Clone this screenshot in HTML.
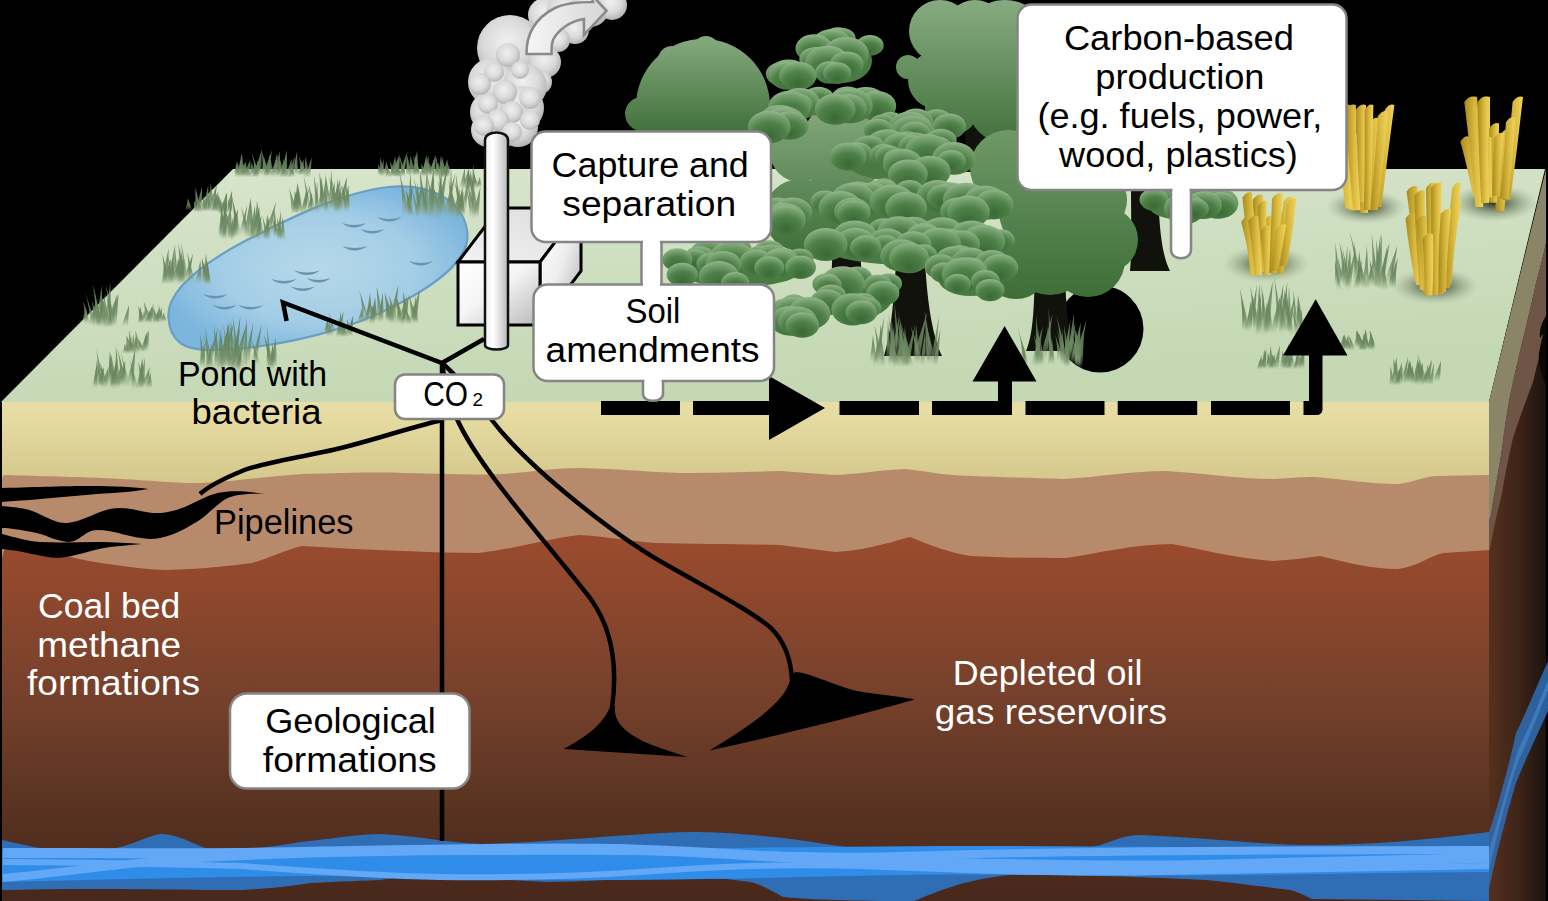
<!DOCTYPE html>
<html><head><meta charset="utf-8"><title>Carbon capture diagram</title>
<style>
html,body{margin:0;padding:0;background:#000;overflow:hidden}
svg{display:block}
text{font-family:"Liberation Sans",sans-serif}
</style></head>
<body>
<svg width="1548" height="901" viewBox="0 0 1548 901">
<defs>
<linearGradient id="gTop" x1="0" y1="0" x2="0.3" y2="1">
<stop offset="0" stop-color="#d8e5cc"/><stop offset="1" stop-color="#c4d8b4"/></linearGradient>
<linearGradient id="gTan" x1="0" y1="402" x2="0" y2="480" gradientUnits="userSpaceOnUse">
<stop offset="0" stop-color="#e9dfa6"/><stop offset="1" stop-color="#d5c88c"/></linearGradient>
<linearGradient id="gDark" x1="0" y1="540" x2="0" y2="901" gradientUnits="userSpaceOnUse">
<stop offset="0" stop-color="#9a4b2e"/><stop offset="0.45" stop-color="#74402b"/><stop offset="0.8" stop-color="#54301f"/><stop offset="1" stop-color="#48281c"/></linearGradient>
<linearGradient id="gSide" x1="1489" y1="0" x2="1548" y2="0" gradientUnits="userSpaceOnUse">
<stop offset="0" stop-color="#55301f"/><stop offset="0.5" stop-color="#3e2418"/><stop offset="1" stop-color="#1a120e"/></linearGradient>
<linearGradient id="gBlade" x1="0" y1="0" x2="0" y2="1">
<stop offset="0" stop-color="#5f7d55" stop-opacity="0.95"/><stop offset="0.6" stop-color="#6f8b65" stop-opacity="0.8"/><stop offset="1" stop-color="#88a37c" stop-opacity="0"/></linearGradient>
<linearGradient id="gWheat" x1="0" y1="0" x2="1" y2="0">
<stop offset="0" stop-color="#a88a1c"/><stop offset="0.6" stop-color="#dcbc42"/><stop offset="1" stop-color="#f0d55a"/></linearGradient>
<linearGradient id="gWheatV" x1="0" y1="0" x2="0" y2="1">
<stop offset="0" stop-color="#000" stop-opacity="0"/><stop offset="0.7" stop-color="#000" stop-opacity="0"/><stop offset="1" stop-color="#3a2a00" stop-opacity="0.25"/></linearGradient>
<radialGradient id="gWShadow" cx="0.5" cy="0.5" r="0.5">
<stop offset="0" stop-color="#18200f" stop-opacity="0.92"/><stop offset="0.5" stop-color="#4a5a40" stop-opacity="0.45"/><stop offset="1" stop-color="#8aa078" stop-opacity="0"/></radialGradient>
<radialGradient id="gSmoke" cx="0.45" cy="0.4" r="0.6">
<stop offset="0" stop-color="#f0f0f0"/><stop offset="0.6" stop-color="#dadada"/><stop offset="1" stop-color="#b4b4b4"/></radialGradient>
<linearGradient id="gArrow" x1="0" y1="0" x2="1" y2="0"><stop offset="0" stop-color="#f6f6f6"/><stop offset="1" stop-color="#d6d6d6"/></linearGradient>
<radialGradient id="gBub" cx="0.5" cy="0.72" r="0.7" fx="0.5" fy="0.8">
<stop offset="0" stop-color="#3a6934"/><stop offset="0.55" stop-color="#4f8048"/><stop offset="0.85" stop-color="#74a06d"/><stop offset="1" stop-color="#8fb388"/></radialGradient>
<linearGradient id="gTC" x1="0" y1="0" x2="0" y2="150" gradientUnits="userSpaceOnUse"><stop offset="0" stop-color="#87ab80"/><stop offset="1" stop-color="#3f6f39"/></linearGradient>
<linearGradient id="gTA" x1="0" y1="35" x2="0" y2="135" gradientUnits="userSpaceOnUse"><stop offset="0" stop-color="#87ab80"/><stop offset="1" stop-color="#3f6f39"/></linearGradient>
<linearGradient id="gTD" x1="0" y1="100" x2="0" y2="255" gradientUnits="userSpaceOnUse"><stop offset="0" stop-color="#87ab80"/><stop offset="1" stop-color="#3f6f39"/></linearGradient>
<linearGradient id="gTE" x1="0" y1="128" x2="0" y2="300" gradientUnits="userSpaceOnUse"><stop offset="0" stop-color="#6f9968"/><stop offset="1" stop-color="#3d6e37"/></linearGradient>
</defs>
<rect width="1548" height="901" fill="#000"/>
<!-- top surface -->
<polygon points="1,402 233,169 1545,169 1489,402" fill="url(#gTop)"/>
<!-- front face -->
<rect x="2" y="402" width="1487" height="499" fill="url(#gTan)"/>
<path id="lightBrown" fill="#b88a6c" d="M2,478 L4,475 C40,476 80,477 101,478 C150,480 180,484 202,483 C240,481 270,476 302,474 C340,473 380,472 403,473 C450,474 480,475 504,474 C530,472 555,468 580,468 C620,469 650,472 680,473 C720,473 750,472 780,471 L835,475 C860,474 880,470 906,469 C930,472 950,476 971,476 C1000,477 1030,478 1064,479 C1100,477 1130,471 1167,471 C1200,473 1240,479 1273,479 C1290,478 1300,477 1315,477 C1350,480 1370,484 1398,484 C1415,482 1425,476 1438,476 L1489,475 L1489,901 L2,901 Z"/>
<path id="darkBrown" fill="url(#gDark)" d="M2,558 L5,548 C20,550 35,552 50,553 C70,556 85,561 101,563 C130,567 150,570 166,570 C200,569 230,566 252,563 C270,558 285,550 302,546 C340,548 370,550 403,551 C430,552 455,553 479,553 C520,548 550,538 580,535 C610,537 630,541 655,543 C700,544 740,544 780,545 L835,552 C860,551 885,544 910,537 C930,545 950,553 971,556 C1010,558 1040,558 1066,558 C1100,553 1135,544 1172,544 C1205,550 1240,559 1273,561 C1290,560 1305,558 1320,556 C1345,562 1370,569 1398,569 C1420,566 1430,555 1444,553 L1489,550 L1489,901 L2,901 Z"/>
<!-- side face -->
<polygon points="1489,402 1546,169 1546,901 1489,901" fill="url(#gSide)"/>
<path fill="#8b8568" d="M1489,402 L1546,169 L1546,243 C1542,262 1538,275 1535,288 C1528,320 1520,350 1513,382 C1508,405 1505,425 1502,449 C1498,475 1494,495 1491,515 L1489,520 Z"/>
<path fill="#6e5545" d="M1489,520 L1491,515 C1494,495 1498,475 1502,449 C1505,425 1508,405 1513,382 C1520,350 1528,320 1535,288 C1538,275 1542,262 1546,243 L1546,330 C1541,350 1537,365 1533,382 C1526,400 1519,420 1513,438 C1509,455 1505,475 1502,493 C1497,515 1493,530 1490,549 L1489,552 Z"/>
<!-- squiggle --><path fill="#0a0806" d="M1546,316 C1542,322 1539,330 1540,338 L1543,334 C1541,345 1538,352 1539,360 C1540,370 1543,378 1546,385 Z"/>
<path fill="#2f6db5" d="M2,840 C30,846 45,850 57,850 C80,851 95,850 111,849 C135,845 150,834 163,834 C185,836 198,848 212,849 C235,850 245,848 258,848 C280,846 295,842 310,841 C335,838 360,834 380,834 C420,836 450,843 481,844 C560,842 640,832 699,832 C740,833 760,836 774,837 C820,842 860,851 900,851 C960,850 1040,850 1087,848 C1105,846 1120,835 1139,835 C1200,837 1260,845 1312,845 C1380,845 1440,838 1489,832 L1489,901 L1312,899 C1300,893 1295,891 1290,890 C1240,884 1210,879 1182,879 C1120,876 1050,874 1010,875 C960,880 935,893 914,901 L900,901 C850,901 800,899 783,897 C770,890 760,884 750,882 C720,878 690,875 666,876 C620,879 580,882 548,882 C500,880 450,876 414,876 C400,877 390,879 380,880 C350,881 330,882 310,883 C280,888 250,890 233,890 C180,890 120,889 77,889 C40,889 20,890 2,890 Z"/>
<path fill="#2f8ce8" d="M2,850 C150,851 300,852 450,852 C600,850 800,846 1000,846 C1200,847 1350,849 1489,848 L1489,872 C1350,873 1200,877 1050,875 C900,873 800,878 700,879 C550,882 450,877 300,876 C200,877 100,880 2,882 Z"/>
<g fill="none" stroke="#62a8f6" stroke-linecap="butt">
<path stroke-width="10" d="M3,853 C100,853 200,854 300,852 C420,850 520,847 620,849 C720,852 800,860 900,862 C1000,864 1100,867 1200,865 C1300,863 1400,860 1489,858"/>
<path stroke-width="8" d="M3,878 C70,872 130,862 200,858 C300,853 400,851 480,851 C560,851 620,850 680,852 C760,855 830,858 900,856 C1000,853 1200,850 1489,850"/>
<path stroke-width="6" d="M3,862 C80,862 160,864 240,866 C320,872 380,876 440,877 C520,878 580,876 640,872 C720,866 780,864 860,866 C960,870 1060,874 1160,872 C1260,870 1380,868 1489,866"/>
</g>
<path fill="#2f6db5" opacity="0.85" d="M1489,832 C1500,800 1510,760 1516,733 C1525,715 1535,690 1548,661 L1548,711 C1535,740 1525,760 1516,783 C1505,820 1495,860 1489,889 Z"/>
<path fill="#4a8ad0" opacity="0.6" d="M1489,850 C1500,815 1510,775 1518,750 C1528,730 1538,705 1548,680 L1548,690 C1538,715 1528,740 1518,762 C1508,790 1498,830 1489,870 Z"/>
<!-- pond -->
<radialGradient id="gPond" cx="0.5" cy="0.5" r="0.55">
<stop offset="0" stop-color="#b6d9e8"/><stop offset="0.6" stop-color="#a3cde6"/><stop offset="1" stop-color="#7cb5de"/></radialGradient>
<path fill="url(#gPond)" stroke="#6b9ec4" stroke-width="2.2" d="M168.5,318 C166,292 200,265 245,241 C290,218 340,193 388,187 C430,183 462,200 467,230 C472,258 440,285 380,313 C330,336 260,350 209,350 C185,350 170,342 168.5,318 Z"/>
<g fill="#6893b3">
<path d="M342,223 Q354.0,232 366,223 Q354.0,227 342,223 Z"/>
<path d="M360,229 Q372.25,238 384.5,229 Q372.25,233 360,229 Z"/>
<path d="M377,217 Q389.3,226 401.6,217 Q389.3,221 377,217 Z"/>
<path d="M342,246 Q354.75,255 367.5,246 Q354.75,250 342,246 Z"/>
<path d="M409,261 Q421.0,270 433,261 Q421.0,265 409,261 Z"/>
<path d="M294,270.6 Q307.0,279.6 320,270.6 Q307.0,274.6 294,270.6 Z"/>
<path d="M306.5,278 Q318.75,287 331,278 Q318.75,282 306.5,278 Z"/>
<path d="M271,279 Q283.85,288 296.7,279 Q283.85,283 271,279 Z"/>
<path d="M290.6,286.5 Q302.8,295.5 315,286.5 Q302.8,290.5 290.6,286.5 Z"/>
<path d="M202.7,294 Q215.35,303 228,294 Q215.35,298 202.7,294 Z"/>
<path d="M212.5,305 Q224.75,314 237,305 Q224.75,309 212.5,305 Z"/>
<path d="M238,305 Q251.0,314 264,305 Q251.0,309 238,305 Z"/>
</g>
<g fill="url(#gBlade)"><path d="M262.4,173.8 Q263.6,161.6 260.9,149.3 Q265.9,162.8 269.2,173.8 Z"/><path d="M233.2,173.9 Q236.3,167.7 236.9,161.5 Q239.3,168.3 240.9,173.9 Z"/><path d="M292.0,174.2 Q295.0,162.6 297.0,150.9 Q297.5,163.7 297.7,174.2 Z"/><path d="M263.3,174.4 Q267.3,162.2 271.9,149.9 Q270.2,163.4 269.2,174.4 Z"/><path d="M251.6,174.5 Q254.0,168.7 254.3,162.9 Q256.4,169.2 257.7,174.5 Z"/><path d="M297.7,174.6 Q300.5,168.1 302.9,161.6 Q302.8,168.7 302.7,174.6 Z"/><path d="M276.7,174.7 Q279.5,167.2 280.8,159.8 Q282.1,168.0 283.0,174.7 Z"/><path d="M257.3,174.8 Q258.5,167.4 256.8,159.9 Q260.4,168.1 262.8,174.8 Z"/><path d="M294.3,175.0 Q295.6,165.6 294.1,156.2 Q297.5,166.5 299.9,175.0 Z"/><path d="M253.3,175.0 Q257.8,162.4 261.6,149.7 Q261.4,163.6 261.3,175.0 Z"/><path d="M273.0,175.0 Q276.9,163.3 279.6,151.6 Q280.3,164.5 280.7,175.0 Z"/><path d="M241.5,175.1 Q244.1,168.0 246.1,160.8 Q246.2,168.7 246.3,175.1 Z"/><path d="M242.8,175.2 Q247.0,167.6 250.3,160.0 Q250.4,168.4 250.5,175.2 Z"/><path d="M299.5,175.3 Q301.2,165.7 298.8,156.1 Q303.9,166.7 307.3,175.3 Z"/><path d="M236.2,175.4 Q239.8,164.3 241.8,153.2 Q243.2,165.4 244.0,175.4 Z"/><path d="M238.8,175.4 Q242.1,168.9 244.4,162.3 Q244.9,169.5 245.3,175.4 Z"/><path d="M239.1,175.5 Q241.3,169.8 240.9,164.1 Q243.8,170.3 245.7,175.5 Z"/><path d="M260.2,175.6 Q263.3,166.3 264.0,157.1 Q266.4,167.3 268.1,175.6 Z"/><path d="M296.9,175.6 Q300.7,167.6 303.5,159.6 Q303.9,168.4 304.2,175.6 Z"/><path d="M267.0,175.6 Q268.8,169.0 268.7,162.4 Q270.7,169.7 272.1,175.6 Z"/><path d="M266.2,175.9 Q269.1,165.5 269.7,155.1 Q272.2,166.5 273.9,175.9 Z"/><path d="M271.8,176.1 Q274.8,164.9 276.7,153.8 Q277.5,166.1 278.0,176.1 Z"/><path d="M279.9,176.4 Q283.8,163.3 286.7,150.2 Q287.1,164.6 287.5,176.4 Z"/><path d="M249.0,176.8 Q251.5,169.5 251.4,162.2 Q254.3,170.2 256.2,176.8 Z"/><path d="M281.0,176.9 Q282.8,170.1 282.0,163.4 Q285.0,170.8 287.0,176.9 Z"/><path d="M262.7,176.9 Q265.9,170.3 267.8,163.8 Q268.8,171.0 269.4,176.9 Z"/><path d="M254.9,176.9 Q255.2,164.8 251.6,152.7 Q256.7,166.0 260.1,176.9 Z"/><path d="M237.2,176.9 Q240.0,165.9 242.1,155.0 Q242.4,167.0 242.5,176.9 Z"/><path d="M284.6,176.9 Q288.5,167.7 291.9,158.4 Q291.5,168.6 291.3,176.9 Z"/><path d="M288.4,177.0 Q291.0,171.2 291.6,165.4 Q293.7,171.8 295.0,177.0 Z"/><path d="M305.0,177.1 Q308.4,167.2 311.7,157.2 Q311.0,168.2 310.6,177.1 Z"/><path d="M251.7,177.2 Q255.4,170.3 258.3,163.3 Q258.6,170.9 258.8,177.2 Z"/><path d="M245.4,177.2 Q247.2,171.7 246.1,166.3 Q249.5,172.3 251.7,177.2 Z"/><path d="M252.7,177.3 Q255.1,171.0 256.9,164.6 Q257.2,171.6 257.4,177.3 Z"/><path d="M234.4,177.3 Q236.6,170.5 235.9,163.7 Q239.1,171.2 241.3,177.3 Z"/><path d="M275.2,177.4 Q278.0,168.0 280.0,158.5 Q280.3,168.9 280.4,177.4 Z"/><path d="M239.5,177.5 Q243.2,170.2 245.3,162.9 Q246.5,171.0 247.3,177.5 Z"/><path d="M303.0,177.6 Q305.4,167.0 305.5,156.5 Q308.0,168.1 309.6,177.6 Z"/><path d="M287.6,177.6 Q291.0,168.0 293.9,158.3 Q293.8,168.9 293.7,177.6 Z"/><path d="M279.3,177.7 Q282.2,168.9 283.6,160.2 Q285.0,169.8 285.9,177.7 Z"/><path d="M269.4,177.7 Q273.4,165.9 278.1,154.0 Q276.3,167.0 275.0,177.7 Z"/><path d="M284.9,177.9 Q285.6,168.0 282.8,158.1 Q287.1,169.0 289.9,177.9 Z"/><path d="M414.3,174.2 Q415.6,164.9 413.2,155.6 Q417.8,165.8 420.9,174.2 Z"/><path d="M425.6,174.3 Q428.0,168.5 428.3,162.7 Q430.5,169.0 431.9,174.3 Z"/><path d="M411.0,174.3 Q414.7,162.5 417.2,150.7 Q418.0,163.7 418.5,174.3 Z"/><path d="M423.9,174.4 Q427.0,167.7 429.0,160.9 Q429.6,168.4 429.9,174.4 Z"/><path d="M399.0,174.5 Q402.9,163.1 407.4,151.6 Q405.5,164.2 404.3,174.5 Z"/><path d="M447.3,174.6 Q448.2,167.4 446.3,160.2 Q449.8,168.1 452.1,174.6 Z"/><path d="M421.2,174.7 Q424.5,165.6 426.0,156.5 Q427.6,166.5 428.7,174.7 Z"/><path d="M405.7,174.7 Q407.6,164.8 407.0,154.8 Q409.9,165.8 411.9,174.7 Z"/><path d="M377.3,174.8 Q379.0,169.4 377.8,164.0 Q381.2,169.9 383.4,174.8 Z"/><path d="M412.9,174.9 Q415.4,164.8 415.4,154.6 Q418.2,165.8 420.0,174.9 Z"/><path d="M378.7,174.9 Q380.8,166.2 380.3,157.4 Q383.3,167.0 385.2,174.9 Z"/><path d="M390.1,175.2 Q393.4,165.6 395.1,156.0 Q396.5,166.6 397.4,175.2 Z"/><path d="M427.7,175.3 Q429.6,168.8 429.4,162.3 Q431.7,169.5 433.1,175.3 Z"/><path d="M420.7,175.3 Q425.0,165.4 428.9,155.4 Q428.4,166.4 428.0,175.3 Z"/><path d="M438.4,175.5 Q441.4,165.8 442.0,156.2 Q444.5,166.8 446.2,175.5 Z"/><path d="M406.2,175.5 Q407.4,166.3 406.0,157.0 Q409.2,167.2 411.3,175.5 Z"/><path d="M407.8,175.8 Q410.5,165.7 410.4,155.6 Q413.5,166.7 415.5,175.8 Z"/><path d="M428.3,175.8 Q431.8,166.4 434.7,157.0 Q434.7,167.4 434.6,175.8 Z"/><path d="M390.4,175.9 Q395.1,165.1 399.5,154.4 Q398.8,166.2 398.3,175.9 Z"/><path d="M400.6,176.0 Q401.5,165.3 399.4,154.7 Q403.1,166.4 405.6,176.0 Z"/><path d="M420.1,176.0 Q422.2,169.8 421.3,163.5 Q424.8,170.4 427.2,176.0 Z"/><path d="M427.6,176.1 Q431.8,165.4 435.9,154.7 Q435.1,166.4 434.6,176.1 Z"/><path d="M412.5,176.1 Q415.6,167.4 416.7,158.8 Q418.6,168.3 419.8,176.1 Z"/><path d="M381.7,176.1 Q384.9,168.7 386.9,161.3 Q387.7,169.5 388.2,176.1 Z"/><path d="M390.8,176.2 Q391.7,168.1 389.4,160.1 Q393.3,168.9 395.9,176.2 Z"/><path d="M393.8,176.3 Q395.9,170.2 396.9,164.1 Q397.8,170.8 398.4,176.3 Z"/><path d="M442.4,176.3 Q444.2,170.0 443.1,163.6 Q446.4,170.6 448.6,176.3 Z"/><path d="M393.9,176.5 Q396.3,170.1 396.6,163.6 Q398.8,170.7 400.2,176.5 Z"/><path d="M389.5,176.6 Q391.9,170.1 391.8,163.6 Q394.6,170.8 396.4,176.6 Z"/><path d="M432.1,176.6 Q435.9,169.5 438.5,162.4 Q439.3,170.2 439.8,176.6 Z"/><path d="M441.2,176.7 Q444.6,168.0 447.6,159.3 Q447.4,168.9 447.2,176.7 Z"/><path d="M392.1,176.8 Q396.2,166.9 399.7,157.0 Q399.5,167.9 399.4,176.8 Z"/><path d="M444.7,176.9 Q446.9,171.7 447.5,166.4 Q449.0,172.2 450.0,176.9 Z"/><path d="M395.9,177.2 Q397.9,170.8 397.5,164.4 Q400.2,171.4 402.0,177.2 Z"/><path d="M397.7,177.2 Q401.6,169.3 404.6,161.4 Q404.9,170.1 405.2,177.2 Z"/><path d="M437.1,177.2 Q439.9,166.4 441.0,155.5 Q442.5,167.5 443.4,177.2 Z"/><path d="M434.6,177.3 Q436.5,166.6 435.8,156.0 Q438.8,167.7 440.8,177.3 Z"/><path d="M378.7,177.3 Q381.4,168.1 383.8,158.8 Q383.6,169.0 383.4,177.3 Z"/><path d="M439.1,177.5 Q441.3,170.3 441.1,163.1 Q443.8,171.0 445.6,177.5 Z"/><path d="M440.4,177.5 Q443.8,172.2 445.4,166.8 Q447.1,172.7 448.1,177.5 Z"/><path d="M385.1,177.6 Q387.5,171.3 387.1,164.9 Q390.1,171.9 392.2,177.6 Z"/><path d="M421.0,177.9 Q424.0,166.1 426.8,154.2 Q426.3,167.3 426.0,177.9 Z"/><path d="M470.7,186.3 Q473.1,180.6 474.4,174.9 Q475.3,181.2 475.9,186.3 Z"/><path d="M471.1,187.0 Q472.9,175.7 473.1,164.5 Q475.0,176.9 476.2,187.0 Z"/><path d="M475.3,188.0 Q478.2,182.4 479.9,176.9 Q480.9,183.0 481.6,188.0 Z"/><path d="M472.3,188.4 Q474.4,180.5 473.0,172.6 Q477.0,181.3 479.6,188.4 Z"/><path d="M459.1,188.7 Q462.3,178.0 464.9,167.4 Q465.1,179.1 465.2,188.7 Z"/><path d="M467.7,189.3 Q469.3,179.6 467.5,169.9 Q471.5,180.5 474.2,189.3 Z"/><path d="M460.7,189.6 Q465.2,178.9 469.3,168.1 Q468.9,179.9 468.7,189.6 Z"/><path d="M471.0,189.8 Q472.1,183.0 470.6,176.1 Q473.7,183.7 475.7,189.8 Z"/><path d="M465.8,189.9 Q467.8,182.7 468.4,175.5 Q469.9,183.4 470.8,189.9 Z"/><path d="M466.4,189.9 Q469.1,180.2 470.4,170.4 Q471.6,181.2 472.4,189.9 Z"/><path d="M207.6,209.9 Q210.3,196.5 210.7,183.1 Q213.0,197.8 214.6,209.9 Z"/><path d="M185.0,210.2 Q187.7,204.2 187.9,198.2 Q190.5,204.8 192.2,210.2 Z"/><path d="M195.1,210.6 Q199.0,198.7 202.0,186.7 Q202.1,199.8 202.2,210.6 Z"/><path d="M202.4,210.6 Q206.4,200.2 210.6,189.7 Q209.4,201.2 208.7,210.6 Z"/><path d="M201.8,210.8 Q205.6,198.1 208.1,185.4 Q208.8,199.4 209.4,210.8 Z"/><path d="M219.0,210.9 Q223.5,201.8 227.1,192.6 Q227.1,202.7 227.0,210.9 Z"/><path d="M194.0,211.2 Q196.2,199.2 195.5,187.2 Q198.7,200.4 200.9,211.2 Z"/><path d="M210.3,211.3 Q214.2,201.2 218.3,191.1 Q217.0,202.2 216.2,211.3 Z"/><path d="M207.1,211.3 Q211.8,197.6 217.1,183.9 Q215.0,199.0 213.6,211.3 Z"/><path d="M224.9,211.4 Q228.8,201.0 232.1,190.6 Q232.0,202.0 231.9,211.4 Z"/><path d="M193.9,211.4 Q197.5,205.0 199.6,198.6 Q200.8,205.6 201.6,211.4 Z"/><path d="M205.7,211.4 Q208.2,205.1 209.4,198.8 Q210.6,205.7 211.4,211.4 Z"/><path d="M215.5,211.4 Q217.0,200.3 214.1,189.2 Q219.7,201.4 223.4,211.4 Z"/><path d="M200.0,211.5 Q202.9,203.6 203.9,195.8 Q205.7,204.4 206.9,211.5 Z"/><path d="M211.8,211.6 Q214.4,202.9 215.9,194.2 Q216.8,203.8 217.3,211.6 Z"/><path d="M201.5,211.7 Q204.5,205.0 206.9,198.3 Q206.9,205.7 206.9,211.7 Z"/><path d="M211.3,211.8 Q214.3,205.4 214.7,198.9 Q217.3,206.0 219.1,211.8 Z"/><path d="M227.1,211.9 Q228.9,205.8 228.1,199.7 Q231.2,206.4 233.2,211.9 Z"/><path d="M222.4,212.1 Q224.7,202.6 226.0,193.2 Q226.8,203.6 227.3,212.1 Z"/><path d="M193.0,212.1 Q194.8,206.3 193.9,200.5 Q197.2,206.9 199.3,212.1 Z"/><path d="M215.1,212.2 Q217.5,203.1 218.6,194.0 Q219.8,204.1 220.6,212.2 Z"/><path d="M218.9,212.6 Q220.6,204.2 218.8,195.9 Q223.1,205.1 225.9,212.6 Z"/><path d="M197.1,213.0 Q197.8,202.3 194.7,191.5 Q199.4,203.3 202.6,213.0 Z"/><path d="M225.9,213.0 Q229.5,205.1 232.7,197.1 Q232.3,205.8 232.1,213.0 Z"/><path d="M218.2,213.2 Q219.6,205.8 217.8,198.3 Q221.6,206.5 224.1,213.2 Z"/><path d="M217.6,213.7 Q221.6,207.7 224.3,201.8 Q225.1,208.3 225.6,213.7 Z"/><path d="M221.2,213.8 Q224.3,207.8 226.0,201.9 Q227.1,208.4 227.8,213.8 Z"/><path d="M326.6,207.8 Q327.3,190.7 324.9,173.6 Q329.0,192.4 331.7,207.8 Z"/><path d="M319.4,207.9 Q320.8,189.8 319.4,171.7 Q322.9,191.6 325.3,207.9 Z"/><path d="M330.0,208.2 Q335.0,193.7 340.2,179.1 Q338.7,195.1 337.7,208.2 Z"/><path d="M343.9,208.5 Q344.8,196.7 342.0,184.9 Q346.6,197.9 349.7,208.5 Z"/><path d="M342.7,208.6 Q346.2,197.0 348.3,185.3 Q349.4,198.1 350.1,208.6 Z"/><path d="M316.8,208.7 Q320.0,196.9 322.6,185.2 Q322.6,198.1 322.5,208.7 Z"/><path d="M319.8,208.9 Q323.6,193.2 326.1,177.5 Q327.0,194.8 327.6,208.9 Z"/><path d="M291.3,209.2 Q294.5,200.3 296.0,191.5 Q297.6,201.2 298.6,209.2 Z"/><path d="M333.4,209.2 Q334.2,194.0 331.8,178.9 Q336.0,195.5 338.7,209.2 Z"/><path d="M327.6,209.3 Q330.1,189.8 331.4,170.3 Q332.5,191.8 333.2,209.3 Z"/><path d="M294.4,209.5 Q295.8,199.9 294.5,190.2 Q297.6,200.8 299.7,209.5 Z"/><path d="M328.4,209.5 Q331.8,195.5 334.6,181.5 Q334.7,196.9 334.7,209.5 Z"/><path d="M292.0,209.7 Q294.5,201.2 295.1,192.7 Q297.1,202.0 298.4,209.7 Z"/><path d="M306.3,209.8 Q306.8,193.0 303.9,176.2 Q308.2,194.7 311.1,209.8 Z"/><path d="M335.9,210.0 Q341.2,193.4 347.3,176.8 Q345.0,195.1 343.5,210.0 Z"/><path d="M309.7,210.4 Q310.8,197.3 308.6,184.1 Q312.8,198.6 315.6,210.4 Z"/><path d="M334.1,210.8 Q333.8,193.3 328.5,175.9 Q335.2,195.1 339.6,210.8 Z"/><path d="M333.5,211.0 Q337.2,199.4 340.4,187.8 Q340.2,200.5 340.0,211.0 Z"/><path d="M318.8,211.4 Q321.3,193.9 321.1,176.4 Q324.1,195.6 326.1,211.4 Z"/><path d="M314.4,211.5 Q315.7,193.3 313.9,175.0 Q317.5,195.1 320.0,211.5 Z"/><path d="M292.5,211.6 Q295.6,197.5 297.5,183.3 Q298.4,198.9 298.9,211.6 Z"/><path d="M300.7,211.7 Q304.1,199.1 307.3,186.5 Q306.6,200.4 306.1,211.7 Z"/><path d="M344.9,211.7 Q346.4,195.6 345.4,179.6 Q348.3,197.2 350.3,211.7 Z"/><path d="M291.9,212.2 Q295.3,201.6 297.5,191.0 Q298.3,202.7 298.9,212.2 Z"/><path d="M344.1,212.3 Q343.9,196.2 339.4,180.1 Q345.0,197.8 348.8,212.3 Z"/><path d="M305.9,212.9 Q309.4,203.0 312.0,193.1 Q312.4,204.0 312.7,212.9 Z"/><path d="M335.5,212.9 Q338.7,199.2 340.0,185.5 Q341.8,200.6 342.9,212.9 Z"/><path d="M324.2,212.9 Q325.5,201.4 324.3,189.8 Q327.3,202.5 329.4,212.9 Z"/><path d="M295.4,212.9 Q298.0,197.7 297.4,182.4 Q301.0,199.2 303.3,212.9 Z"/><path d="M333.1,213.1 Q335.7,195.3 337.9,177.5 Q337.9,197.1 337.9,213.1 Z"/><path d="M295.6,213.3 Q298.0,201.8 297.6,190.3 Q300.6,202.9 302.7,213.3 Z"/><path d="M290.7,213.5 Q292.0,200.7 289.0,187.9 Q294.4,202.0 297.9,213.5 Z"/><path d="M314.0,213.5 Q316.1,197.4 317.1,181.3 Q318.1,199.0 318.9,213.5 Z"/><path d="M300.1,213.6 Q304.1,201.1 308.8,188.6 Q306.9,202.4 305.7,213.6 Z"/><path d="M290.9,213.8 Q295.0,201.8 299.1,189.9 Q298.1,203.0 297.5,213.8 Z"/><path d="M470.4,212.3 Q470.4,196.8 466.0,181.3 Q471.8,198.4 475.6,212.3 Z"/><path d="M440.4,212.6 Q441.5,192.5 438.9,172.4 Q443.6,194.6 446.8,212.6 Z"/><path d="M433.9,212.7 Q435.6,198.9 432.9,185.1 Q438.2,200.3 441.8,212.7 Z"/><path d="M461.1,212.7 Q464.6,194.4 468.5,176.2 Q467.1,196.3 466.1,212.7 Z"/><path d="M416.6,213.3 Q417.3,195.6 413.7,177.9 Q419.2,197.4 422.9,213.3 Z"/><path d="M422.8,213.3 Q425.4,190.1 427.2,167.0 Q427.8,192.4 428.1,213.3 Z"/><path d="M457.2,213.3 Q458.3,197.3 454.5,181.2 Q460.8,198.9 464.9,213.3 Z"/><path d="M472.2,213.3 Q472.7,194.2 468.3,175.1 Q474.6,196.1 478.8,213.3 Z"/><path d="M456.0,213.3 Q460.1,202.6 463.4,191.8 Q463.4,203.7 463.4,213.3 Z"/><path d="M402.6,213.6 Q407.4,199.3 412.9,185.0 Q410.9,200.7 409.5,213.6 Z"/><path d="M448.3,213.6 Q450.7,200.8 451.3,187.9 Q453.0,202.1 454.1,213.6 Z"/><path d="M430.1,214.1 Q430.4,193.1 426.5,172.0 Q431.9,195.2 435.5,214.1 Z"/><path d="M440.8,214.2 Q441.5,197.2 437.8,180.2 Q443.4,198.9 447.1,214.2 Z"/><path d="M461.2,214.5 Q461.8,202.9 459.0,191.3 Q463.4,204.1 466.2,214.5 Z"/><path d="M471.7,214.6 Q473.3,194.0 471.2,173.3 Q475.6,196.0 478.5,214.6 Z"/><path d="M407.1,214.8 Q409.6,193.7 410.4,172.6 Q412.0,195.8 413.1,214.8 Z"/><path d="M402.0,215.0 Q403.1,193.8 399.5,172.6 Q405.4,195.9 409.3,215.0 Z"/><path d="M452.4,215.2 Q456.1,201.7 459.9,188.2 Q458.9,203.1 458.3,215.2 Z"/><path d="M416.6,215.4 Q418.1,198.8 417.2,182.1 Q419.9,200.4 421.6,215.4 Z"/><path d="M419.6,215.6 Q421.6,192.9 419.9,170.2 Q424.3,195.1 427.3,215.6 Z"/><path d="M413.4,215.8 Q417.2,201.4 421.4,187.0 Q419.9,202.8 418.8,215.8 Z"/><path d="M407.3,216.1 Q408.5,202.9 405.5,189.6 Q410.8,204.2 414.3,216.1 Z"/><path d="M472.7,216.2 Q472.3,198.9 466.9,181.6 Q473.6,200.6 478.0,216.2 Z"/><path d="M424.7,216.2 Q425.7,200.8 424.1,185.4 Q427.3,202.4 429.5,216.2 Z"/><path d="M429.1,216.3 Q431.6,194.8 433.1,173.3 Q433.9,196.9 434.4,216.3 Z"/><path d="M456.5,216.7 Q457.8,195.1 455.8,173.6 Q459.8,197.3 462.4,216.7 Z"/><path d="M408.8,216.7 Q409.4,203.9 406.6,191.2 Q411.0,205.2 413.9,216.7 Z"/><path d="M452.3,216.8 Q453.2,200.9 449.5,185.1 Q455.4,202.5 459.2,216.8 Z"/><path d="M443.1,217.1 Q448.2,195.3 455.3,173.6 Q451.4,197.5 448.8,217.1 Z"/><path d="M449.6,217.2 Q450.4,197.5 448.6,177.8 Q451.9,199.5 454.2,217.2 Z"/><path d="M422.4,217.3 Q424.0,201.1 422.3,185.0 Q426.2,202.8 428.8,217.3 Z"/><path d="M425.1,217.3 Q429.4,193.1 433.8,168.8 Q432.5,195.5 431.6,217.3 Z"/><path d="M435.0,217.5 Q440.4,191.6 447.6,165.6 Q444.0,194.2 441.5,217.5 Z"/><path d="M458.8,217.8 Q461.4,202.2 462.2,186.7 Q463.9,203.8 465.1,217.8 Z"/><path d="M469.5,218.0 Q469.4,200.7 464.9,183.3 Q470.8,202.4 474.7,218.0 Z"/><path d="M471.6,218.4 Q476.0,202.8 480.4,187.1 Q479.3,204.3 478.6,218.4 Z"/><path d="M415.8,218.5 Q415.2,201.0 409.9,183.5 Q416.3,202.8 420.5,218.5 Z"/><path d="M427.9,218.7 Q431.4,196.1 433.8,173.4 Q434.4,198.3 434.9,218.7 Z"/><path d="M447.5,218.8 Q450.0,193.5 451.1,168.2 Q452.2,196.0 453.0,218.8 Z"/><path d="M454.1,219.9 Q458.2,203.9 462.3,187.9 Q461.3,205.5 460.7,219.9 Z"/><path d="M434.1,219.9 Q438.2,193.8 441.8,167.8 Q441.6,196.4 441.5,219.9 Z"/><path d="M239.0,234.4 Q242.7,219.8 247.1,205.2 Q245.3,221.3 244.1,234.4 Z"/><path d="M256.8,234.7 Q258.5,224.9 256.7,215.2 Q260.9,225.9 263.6,234.7 Z"/><path d="M271.0,235.0 Q273.7,222.5 274.8,209.9 Q276.1,223.7 277.0,235.0 Z"/><path d="M217.4,235.2 Q220.5,221.6 221.9,207.9 Q223.4,222.9 224.4,235.2 Z"/><path d="M222.7,235.3 Q226.8,219.8 231.7,204.3 Q229.6,221.3 228.3,235.3 Z"/><path d="M219.1,235.3 Q223.1,218.3 225.9,201.2 Q226.5,220.0 227.0,235.3 Z"/><path d="M264.6,235.5 Q269.6,218.6 276.1,201.7 Q272.9,220.3 270.8,235.5 Z"/><path d="M233.9,235.5 Q235.2,216.3 231.9,197.1 Q237.7,218.2 241.6,235.5 Z"/><path d="M230.2,235.8 Q234.3,222.3 237.7,208.8 Q237.6,223.6 237.5,235.8 Z"/><path d="M251.7,235.8 Q254.9,218.6 257.4,201.3 Q257.5,220.3 257.5,235.8 Z"/><path d="M244.6,236.4 Q244.9,220.8 240.6,205.2 Q246.5,222.4 250.5,236.4 Z"/><path d="M254.5,236.5 Q257.4,221.5 259.3,206.6 Q260.0,223.0 260.5,236.5 Z"/><path d="M276.6,237.0 Q278.6,227.3 277.0,217.7 Q281.1,228.3 283.9,237.0 Z"/><path d="M218.3,237.1 Q222.4,222.0 225.6,206.9 Q225.8,223.5 226.0,237.1 Z"/><path d="M243.3,237.3 Q246.8,218.3 250.6,199.3 Q249.4,220.2 248.5,237.3 Z"/><path d="M234.4,237.4 Q235.4,220.1 233.3,202.8 Q237.2,221.8 239.8,237.4 Z"/><path d="M273.5,237.5 Q275.4,228.3 273.7,219.1 Q277.9,229.2 280.8,237.5 Z"/><path d="M248.4,237.6 Q252.2,221.7 255.0,205.8 Q255.5,223.3 255.8,237.6 Z"/><path d="M231.3,237.7 Q233.7,223.7 235.0,209.7 Q235.9,225.1 236.5,237.7 Z"/><path d="M226.7,238.0 Q227.4,220.0 222.3,202.1 Q229.7,221.8 234.7,238.0 Z"/><path d="M261.3,238.1 Q265.5,227.6 269.4,217.1 Q268.7,228.6 268.3,238.1 Z"/><path d="M226.9,238.5 Q230.6,227.5 233.5,216.6 Q233.7,228.6 233.7,238.5 Z"/><path d="M219.0,238.6 Q221.4,221.8 220.9,205.0 Q224.2,223.5 226.3,238.6 Z"/><path d="M227.1,238.8 Q229.6,224.9 230.8,211.0 Q231.9,226.3 232.6,238.8 Z"/><path d="M277.5,238.9 Q279.2,230.9 278.6,222.9 Q281.2,231.7 282.9,238.9 Z"/><path d="M249.7,238.9 Q254.0,222.8 259.2,206.7 Q257.1,224.4 255.7,238.9 Z"/><path d="M254.2,239.0 Q257.3,228.9 260.6,218.8 Q259.5,229.9 258.8,239.0 Z"/><path d="M258.2,239.0 Q259.3,219.9 256.3,200.7 Q261.4,221.8 264.8,239.0 Z"/><path d="M249.9,239.4 Q251.7,226.8 251.4,214.1 Q253.8,228.1 255.5,239.4 Z"/><path d="M246.9,239.6 Q249.9,218.5 250.3,197.3 Q253.0,220.6 254.9,239.6 Z"/><path d="M220.9,239.7 Q223.8,229.4 225.9,219.1 Q226.3,230.4 226.5,239.7 Z"/><path d="M263.4,239.8 Q266.5,226.8 267.2,213.9 Q269.6,228.1 271.1,239.8 Z"/><path d="M264.0,240.2 Q265.1,228.1 262.1,216.0 Q267.2,229.3 270.6,240.2 Z"/><path d="M275.9,240.4 Q278.7,225.7 280.7,211.1 Q281.1,227.2 281.4,240.4 Z"/><path d="M254.8,240.4 Q258.1,227.7 261.3,214.9 Q260.6,228.9 260.1,240.4 Z"/><path d="M229.1,240.7 Q232.9,225.4 237.5,210.1 Q235.6,226.9 234.3,240.7 Z"/><path d="M279.1,240.7 Q281.8,228.7 282.7,216.6 Q284.4,229.9 285.5,240.7 Z"/><path d="M163.0,278.6 Q164.3,266.5 162.5,254.5 Q166.2,267.7 168.8,278.6 Z"/><path d="M172.9,278.8 Q174.9,264.0 175.0,249.2 Q176.9,265.5 178.2,278.8 Z"/><path d="M181.4,279.0 Q182.7,266.3 179.6,253.5 Q185.1,267.5 188.7,279.0 Z"/><path d="M183.4,279.1 Q183.8,260.6 180.9,242.0 Q185.2,262.4 188.1,279.1 Z"/><path d="M172.2,279.8 Q176.0,269.2 179.1,258.6 Q179.1,270.3 179.1,279.8 Z"/><path d="M167.7,280.2 Q171.4,262.2 175.3,244.1 Q174.2,264.0 173.4,280.2 Z"/><path d="M180.8,280.4 Q181.8,263.4 180.4,246.4 Q183.5,265.1 185.5,280.4 Z"/><path d="M203.4,280.4 Q204.4,270.0 201.8,259.6 Q206.3,271.0 209.2,280.4 Z"/><path d="M183.3,280.5 Q187.8,267.1 193.0,253.6 Q190.8,268.4 189.4,280.5 Z"/><path d="M180.3,281.1 Q180.9,268.9 178.4,256.7 Q182.3,270.1 185.0,281.1 Z"/><path d="M175.7,281.5 Q178.3,272.0 179.6,262.4 Q180.6,272.9 181.3,281.5 Z"/><path d="M169.6,282.1 Q171.4,272.0 171.8,261.9 Q173.2,273.0 174.2,282.1 Z"/><path d="M202.6,282.4 Q205.4,268.0 205.8,253.7 Q208.4,269.5 210.2,282.4 Z"/><path d="M169.6,282.4 Q172.1,270.9 172.0,259.3 Q174.8,272.0 176.6,282.4 Z"/><path d="M179.1,282.6 Q180.5,262.5 178.0,242.4 Q182.8,264.5 186.1,282.6 Z"/><path d="M201.7,282.7 Q203.5,270.3 201.8,258.0 Q206.1,271.6 208.9,282.7 Z"/><path d="M178.8,283.3 Q179.4,270.8 177.1,258.4 Q180.9,272.1 183.4,283.3 Z"/><path d="M160.9,283.5 Q165.0,265.9 168.6,248.4 Q168.3,267.7 168.1,283.5 Z"/><path d="M203.7,283.6 Q205.4,272.9 204.8,262.3 Q207.4,274.0 209.2,283.6 Z"/><path d="M169.5,283.6 Q170.3,269.3 167.8,255.0 Q171.9,270.7 174.6,283.6 Z"/><path d="M173.7,283.9 Q177.1,268.6 181.0,253.3 Q179.5,270.1 178.5,283.9 Z"/><path d="M194.9,284.0 Q198.3,272.1 200.4,260.3 Q201.3,273.3 201.9,284.0 Z"/><path d="M187.8,284.0 Q189.5,268.1 187.3,252.1 Q192.0,269.7 195.1,284.0 Z"/><path d="M161.3,284.0 Q166.1,271.4 171.1,258.7 Q169.5,272.6 168.5,284.0 Z"/><path d="M161.4,284.1 Q163.9,273.2 164.9,262.3 Q166.4,274.3 167.4,284.1 Z"/><path d="M205.7,284.5 Q207.7,276.1 207.5,267.7 Q209.8,276.9 211.3,284.5 Z"/><path d="M167.2,284.5 Q169.1,272.1 169.0,259.7 Q171.2,273.3 172.7,284.5 Z"/><path d="M203.7,284.6 Q206.6,273.1 207.5,261.5 Q209.5,274.2 210.9,284.6 Z"/><path d="M177.2,284.7 Q180.8,271.6 182.6,258.4 Q184.1,272.9 185.1,284.7 Z"/><path d="M98.0,322.2 Q101.6,307.8 105.5,293.5 Q104.3,309.3 103.5,322.2 Z"/><path d="M81.7,322.7 Q84.6,314.5 85.6,306.3 Q87.3,315.3 88.4,322.7 Z"/><path d="M101.2,323.1 Q102.5,306.4 100.5,289.7 Q104.4,308.1 107.0,323.1 Z"/><path d="M95.2,323.4 Q98.7,304.2 102.2,284.9 Q101.4,306.1 100.8,323.4 Z"/><path d="M94.8,323.6 Q96.0,304.3 93.4,284.9 Q98.1,306.2 101.3,323.6 Z"/><path d="M108.7,323.9 Q109.6,304.1 105.6,284.2 Q111.9,306.1 116.1,323.9 Z"/><path d="M104.1,323.9 Q107.8,303.3 110.3,282.7 Q110.9,305.4 111.3,323.9 Z"/><path d="M84.3,324.2 Q85.5,312.6 83.2,301.0 Q87.5,313.7 90.3,324.2 Z"/><path d="M96.9,324.4 Q99.9,312.2 101.8,300.0 Q102.6,313.4 103.1,324.4 Z"/><path d="M90.4,324.4 Q90.1,308.4 85.0,292.4 Q91.4,310.0 95.7,324.4 Z"/><path d="M97.2,324.7 Q96.9,304.8 92.3,285.0 Q98.0,306.8 101.8,324.7 Z"/><path d="M95.8,324.7 Q96.8,314.7 94.3,304.7 Q98.7,315.7 101.7,324.7 Z"/><path d="M109.5,325.4 Q110.2,310.3 105.8,295.1 Q112.2,311.8 116.5,325.4 Z"/><path d="M87.9,325.6 Q92.4,312.1 97.3,298.7 Q95.7,313.5 94.5,325.6 Z"/><path d="M106.1,325.8 Q111.2,310.0 117.2,294.2 Q114.9,311.6 113.5,325.8 Z"/><path d="M97.8,326.4 Q100.6,311.4 102.9,296.4 Q102.9,312.9 102.9,326.4 Z"/><path d="M108.6,326.5 Q113.5,310.0 118.6,293.5 Q117.3,311.6 116.4,326.5 Z"/><path d="M121.2,326.6 Q125.3,315.8 129.1,305.1 Q128.5,316.9 128.0,326.6 Z"/><path d="M92.4,326.7 Q94.2,313.6 91.8,300.6 Q96.9,315.0 100.4,326.7 Z"/><path d="M103.3,326.8 Q104.7,314.2 103.7,301.7 Q106.7,315.5 108.6,326.8 Z"/><path d="M96.4,327.0 Q98.1,313.8 96.7,300.6 Q100.3,315.1 102.7,327.0 Z"/><path d="M102.7,327.3 Q103.1,316.0 100.2,304.6 Q104.5,317.1 107.4,327.3 Z"/><path d="M107.1,327.6 Q109.2,317.2 109.0,306.9 Q111.5,318.3 113.1,327.6 Z"/><path d="M105.3,327.8 Q106.5,312.8 104.4,297.9 Q108.3,314.3 111.0,327.8 Z"/><path d="M137.9,320.7 Q140.4,316.4 141.7,312.0 Q142.7,316.8 143.4,320.7 Z"/><path d="M141.5,320.9 Q143.4,315.5 144.2,310.2 Q145.3,316.1 146.0,320.9 Z"/><path d="M154.0,321.2 Q156.7,314.9 158.5,308.7 Q159.2,315.6 159.7,321.2 Z"/><path d="M144.2,321.6 Q146.0,311.5 143.6,301.4 Q148.8,312.5 152.2,321.6 Z"/><path d="M157.5,321.8 Q159.1,313.4 158.9,305.0 Q161.0,314.2 162.4,321.8 Z"/><path d="M160.2,321.9 Q162.9,317.3 163.3,312.7 Q165.6,317.8 167.2,321.9 Z"/><path d="M156.9,321.9 Q159.7,314.8 161.4,307.6 Q162.3,315.5 162.9,321.9 Z"/><path d="M138.4,322.4 Q140.4,316.6 141.0,310.8 Q142.2,317.2 143.0,322.4 Z"/><path d="M153.5,322.4 Q156.3,317.3 157.9,312.1 Q158.9,317.8 159.6,322.4 Z"/><path d="M144.5,322.7 Q148.6,314.4 152.1,306.2 Q151.8,315.3 151.7,322.7 Z"/><path d="M143.9,323.1 Q147.5,316.6 149.8,310.2 Q150.6,317.3 151.2,323.1 Z"/><path d="M138.1,323.2 Q140.0,314.5 138.0,305.8 Q142.6,315.3 145.7,323.2 Z"/><path d="M148.3,323.2 Q151.2,313.4 153.3,303.7 Q153.8,314.4 154.1,323.2 Z"/><path d="M152.6,323.4 Q154.7,315.9 153.6,308.3 Q157.4,316.6 159.9,323.4 Z"/><path d="M137.7,323.6 Q139.8,314.8 140.3,306.0 Q142.0,315.7 143.1,323.6 Z"/><path d="M134.4,350.5 Q136.4,340.6 135.5,330.6 Q138.8,341.6 141.1,350.5 Z"/><path d="M124.8,350.7 Q127.3,343.0 126.5,335.3 Q130.3,343.8 132.8,350.7 Z"/><path d="M140.7,350.9 Q143.9,341.6 146.4,332.2 Q146.5,342.5 146.6,350.9 Z"/><path d="M127.0,351.0 Q129.6,343.6 131.0,336.3 Q132.1,344.4 132.8,351.0 Z"/><path d="M127.2,351.0 Q129.1,340.3 129.7,329.6 Q130.9,341.3 131.7,351.0 Z"/><path d="M142.3,351.3 Q145.8,340.8 148.9,330.3 Q148.6,341.8 148.4,351.3 Z"/><path d="M129.0,351.7 Q131.0,346.3 130.3,341.0 Q133.4,346.9 135.5,351.7 Z"/><path d="M137.6,351.8 Q139.8,345.1 138.3,338.4 Q142.5,345.8 145.3,351.8 Z"/><path d="M140.6,352.5 Q144.0,341.5 147.9,330.6 Q146.4,342.6 145.4,352.5 Z"/><path d="M127.9,353.0 Q130.1,346.5 130.1,340.1 Q132.5,347.2 134.1,353.0 Z"/><path d="M121.8,353.7 Q124.6,348.8 124.7,343.9 Q127.5,349.3 129.4,353.7 Z"/><path d="M126.1,353.7 Q127.5,348.7 126.7,343.7 Q129.4,349.2 131.2,353.7 Z"/><path d="M132.5,353.8 Q135.1,345.4 135.2,336.9 Q138.0,346.2 139.8,353.8 Z"/><path d="M130.3,354.0 Q132.6,343.8 133.2,333.7 Q134.8,344.8 135.9,354.0 Z"/><path d="M138.8,383.8 Q140.4,372.8 138.1,361.8 Q142.8,373.9 146.0,383.8 Z"/><path d="M111.2,384.3 Q112.4,368.5 110.6,352.6 Q114.4,370.0 116.9,384.3 Z"/><path d="M112.2,384.4 Q114.8,368.4 116.7,352.4 Q117.1,370.0 117.4,384.4 Z"/><path d="M107.3,384.5 Q110.0,368.0 109.6,351.5 Q113.0,369.7 115.2,384.5 Z"/><path d="M97.9,384.7 Q99.0,367.2 96.3,349.7 Q101.0,368.9 104.1,384.7 Z"/><path d="M96.7,384.7 Q99.9,376.6 102.5,368.4 Q102.5,377.4 102.4,384.7 Z"/><path d="M107.0,385.0 Q109.2,369.8 110.2,354.5 Q111.2,371.3 111.8,385.0 Z"/><path d="M117.3,385.1 Q121.6,372.9 125.3,360.8 Q124.9,374.2 124.6,385.1 Z"/><path d="M142.1,385.4 Q145.9,376.2 149.7,367.1 Q148.8,377.1 148.3,385.4 Z"/><path d="M109.7,385.4 Q113.5,374.4 115.8,363.4 Q116.9,375.5 117.7,385.4 Z"/><path d="M115.0,385.6 Q116.6,365.6 115.8,345.7 Q118.5,367.6 120.3,385.6 Z"/><path d="M124.6,385.6 Q124.8,368.9 120.9,352.2 Q126.2,370.6 129.7,385.6 Z"/><path d="M100.1,386.0 Q102.1,374.3 100.0,362.6 Q104.9,375.5 108.1,386.0 Z"/><path d="M110.9,386.0 Q111.9,373.8 109.5,361.5 Q113.9,375.0 116.8,386.0 Z"/><path d="M139.6,386.0 Q142.0,377.5 141.1,369.0 Q144.9,378.4 147.5,386.0 Z"/><path d="M97.6,386.1 Q100.9,376.5 103.9,366.8 Q103.6,377.4 103.4,386.1 Z"/><path d="M117.2,386.2 Q120.6,375.4 124.4,364.6 Q123.0,376.5 122.1,386.2 Z"/><path d="M92.8,386.3 Q95.6,372.9 97.1,359.6 Q98.1,374.3 98.9,386.3 Z"/><path d="M111.9,386.8 Q114.8,375.3 116.0,363.7 Q117.5,376.4 118.5,386.8 Z"/><path d="M126.0,386.8 Q130.6,367.8 135.3,348.8 Q134.2,369.7 133.4,386.8 Z"/><path d="M98.9,386.8 Q99.6,375.4 96.3,364.0 Q101.5,376.6 104.9,386.8 Z"/><path d="M139.6,387.3 Q142.4,372.3 144.7,357.4 Q144.7,373.8 144.8,387.3 Z"/><path d="M137.0,387.4 Q140.2,372.5 142.5,357.6 Q142.8,374.0 143.1,387.4 Z"/><path d="M120.6,387.7 Q121.4,368.2 117.4,348.7 Q123.7,370.2 127.8,387.7 Z"/><path d="M100.4,388.0 Q104.6,377.1 108.7,366.3 Q107.8,378.2 107.2,388.0 Z"/><path d="M92.1,388.2 Q94.7,377.7 96.3,367.1 Q97.1,378.7 97.7,388.2 Z"/><path d="M144.8,388.4 Q148.4,380.4 150.3,372.4 Q151.5,381.2 152.4,388.4 Z"/><path d="M108.9,388.7 Q111.8,378.9 114.1,369.2 Q114.3,379.9 114.5,388.7 Z"/><path d="M113.0,388.7 Q117.3,376.1 121.9,363.5 Q120.4,377.4 119.4,388.7 Z"/><path d="M135.2,388.8 Q139.1,376.0 143.0,363.3 Q142.1,377.3 141.6,388.8 Z"/><path d="M137.9,389.3 Q140.7,375.1 142.0,361.0 Q143.3,376.6 144.2,389.3 Z"/><path d="M131.4,389.3 Q132.8,375.2 130.3,361.1 Q135.1,376.6 138.3,389.3 Z"/></g>
<g fill="url(#gBlade)"><path d="M220.8,364.1 Q226.3,343.7 233.7,323.4 Q229.9,345.8 227.4,364.1 Z"/><path d="M250.9,364.3 Q255.6,344.3 261.7,324.4 Q258.6,346.3 256.6,364.3 Z"/><path d="M254.6,365.0 Q255.2,352.8 251.7,340.5 Q257.1,354.0 260.7,365.0 Z"/><path d="M213.7,365.1 Q216.1,348.6 216.2,332.0 Q218.6,350.2 220.1,365.1 Z"/><path d="M219.5,365.3 Q224.3,345.1 231.7,324.9 Q227.2,347.1 224.3,365.3 Z"/><path d="M225.1,365.9 Q226.3,350.0 223.9,334.2 Q228.3,351.6 231.3,365.9 Z"/><path d="M234.6,366.0 Q235.4,340.4 232.4,314.9 Q237.3,343.0 240.5,366.0 Z"/><path d="M243.8,366.1 Q248.0,344.1 253.3,322.2 Q250.8,346.3 249.2,366.1 Z"/><path d="M198.1,366.2 Q201.9,354.8 204.5,343.5 Q205.1,356.0 205.5,366.2 Z"/><path d="M269.7,366.3 Q273.3,352.1 275.5,338.0 Q276.5,353.6 277.1,366.3 Z"/><path d="M219.1,366.5 Q223.7,343.7 229.9,321.0 Q226.7,346.0 224.6,366.5 Z"/><path d="M270.7,366.7 Q272.9,356.4 272.8,346.1 Q275.2,357.4 276.8,366.7 Z"/><path d="M227.4,366.7 Q227.1,344.6 222.5,322.5 Q228.3,346.8 232.2,366.7 Z"/><path d="M221.3,366.8 Q225.6,351.2 229.5,335.6 Q229.0,352.7 228.7,366.8 Z"/><path d="M231.3,367.1 Q235.5,341.6 240.4,316.1 Q238.5,344.2 237.1,367.1 Z"/><path d="M266.2,367.3 Q267.9,353.3 266.0,339.3 Q270.3,354.7 273.2,367.3 Z"/><path d="M232.9,367.4 Q238.9,345.6 246.4,323.9 Q242.9,347.8 240.5,367.4 Z"/><path d="M222.2,367.6 Q225.8,344.9 228.0,322.2 Q229.0,347.2 229.7,367.6 Z"/><path d="M267.6,367.7 Q268.5,347.1 266.8,326.5 Q270.1,349.2 272.2,367.7 Z"/><path d="M206.1,367.7 Q211.1,347.2 218.3,326.7 Q214.0,349.3 211.2,367.7 Z"/><path d="M207.7,367.9 Q207.5,350.6 203.0,333.4 Q208.8,352.3 212.6,367.9 Z"/><path d="M236.3,367.9 Q238.4,354.3 237.3,340.7 Q241.1,355.6 243.6,367.9 Z"/><path d="M229.0,367.9 Q231.1,344.4 231.0,320.8 Q233.4,346.7 235.0,367.9 Z"/><path d="M219.7,368.0 Q221.3,348.6 219.4,329.2 Q223.5,350.5 226.3,368.0 Z"/><path d="M199.7,368.2 Q201.4,351.1 200.4,334.0 Q203.6,352.8 205.8,368.2 Z"/><path d="M230.8,368.4 Q232.3,355.6 230.9,342.8 Q234.4,356.9 236.7,368.4 Z"/><path d="M227.2,368.6 Q229.3,355.0 227.7,341.4 Q232.0,356.4 234.9,368.6 Z"/><path d="M267.8,368.6 Q268.4,351.3 263.6,334.0 Q270.6,353.0 275.2,368.6 Z"/><path d="M226.9,368.7 Q232.8,348.3 240.1,327.9 Q236.7,350.3 234.4,368.7 Z"/><path d="M217.7,368.7 Q222.5,347.2 228.5,325.6 Q225.6,349.3 223.7,368.7 Z"/><path d="M205.9,369.0 Q207.0,347.9 205.4,326.9 Q208.6,350.0 210.7,369.0 Z"/><path d="M241.4,369.0 Q244.5,343.7 246.8,318.3 Q247.0,346.2 247.2,369.0 Z"/><path d="M216.9,369.1 Q219.2,353.3 219.5,337.5 Q221.5,354.9 222.9,369.1 Z"/><path d="M204.3,369.3 Q207.9,356.2 212.3,343.1 Q210.4,357.5 209.2,369.3 Z"/><path d="M210.2,369.6 Q210.0,352.5 205.8,335.4 Q211.2,354.2 214.8,369.6 Z"/><path d="M236.3,370.0 Q235.4,346.8 229.2,323.6 Q236.3,349.1 241.0,370.0 Z"/><path d="M267.2,370.0 Q270.6,356.8 272.9,343.5 Q273.6,358.1 274.1,370.0 Z"/><path d="M214.3,370.8 Q215.5,347.3 213.9,323.7 Q217.3,349.6 219.6,370.8 Z"/><path d="M236.6,371.2 Q237.3,351.2 234.0,331.1 Q239.1,353.2 242.5,371.2 Z"/><path d="M230.1,371.5 Q233.8,353.2 238.6,334.9 Q236.3,355.0 234.8,371.5 Z"/><path d="M219.8,371.6 Q221.4,350.0 220.6,328.4 Q223.3,352.1 225.2,371.6 Z"/><path d="M233.6,371.9 Q237.7,359.7 242.3,347.5 Q240.6,360.9 239.5,371.9 Z"/><path d="M323.3,334.1 Q326.0,326.4 327.5,318.7 Q328.5,327.2 329.1,334.1 Z"/><path d="M331.1,334.5 Q331.7,323.5 329.2,312.4 Q333.2,324.6 335.8,334.5 Z"/><path d="M346.5,334.8 Q349.5,325.7 352.7,316.5 Q351.7,326.6 351.1,334.8 Z"/><path d="M336.5,335.1 Q339.2,329.0 339.5,322.9 Q341.9,329.6 343.6,335.1 Z"/><path d="M324.5,335.7 Q326.7,325.8 328.1,316.0 Q328.7,326.8 329.2,335.7 Z"/><path d="M337.0,336.0 Q339.6,323.6 340.9,311.2 Q342.0,324.8 342.7,336.0 Z"/><path d="M336.4,336.0 Q339.8,323.5 343.6,310.9 Q342.3,324.7 341.4,336.0 Z"/><path d="M347.8,336.1 Q350.6,325.6 353.2,315.0 Q352.8,326.6 352.6,336.1 Z"/><path d="M345.6,336.3 Q347.9,327.7 347.0,319.2 Q350.8,328.6 353.3,336.3 Z"/><path d="M326.2,336.4 Q328.9,328.7 329.7,321.0 Q331.6,329.4 332.8,336.4 Z"/><path d="M340.8,336.5 Q342.8,329.8 342.1,323.0 Q345.3,330.4 347.4,336.5 Z"/><path d="M339.7,336.7 Q340.6,326.9 338.5,317.2 Q342.2,327.9 344.6,336.7 Z"/><path d="M341.3,337.5 Q343.6,329.3 343.8,321.1 Q346.0,330.1 347.4,337.5 Z"/><path d="M334.9,337.6 Q338.2,326.0 341.1,314.4 Q340.9,327.1 340.8,337.6 Z"/><path d="M384.1,319.6 Q386.7,310.5 387.7,301.5 Q389.3,311.4 390.3,319.6 Z"/><path d="M412.0,319.7 Q414.7,312.8 417.0,305.8 Q417.0,313.4 416.9,319.7 Z"/><path d="M385.5,319.7 Q386.6,305.7 384.6,291.6 Q388.5,307.1 391.2,319.7 Z"/><path d="M369.7,319.8 Q372.9,308.3 375.3,296.9 Q375.4,309.5 375.5,319.8 Z"/><path d="M362.2,320.0 Q363.0,305.1 359.2,290.2 Q365.0,306.6 369.0,320.0 Z"/><path d="M372.2,320.2 Q374.4,310.0 375.0,299.9 Q376.6,311.0 377.6,320.2 Z"/><path d="M409.4,320.2 Q414.4,305.4 419.6,290.6 Q418.1,306.9 417.2,320.2 Z"/><path d="M376.7,320.2 Q378.4,303.3 376.6,286.4 Q380.9,305.0 383.7,320.2 Z"/><path d="M398.6,320.4 Q399.1,307.7 395.7,294.9 Q400.7,308.9 404.0,320.4 Z"/><path d="M370.3,320.6 Q373.1,312.7 373.1,304.7 Q376.1,313.5 378.1,320.6 Z"/><path d="M388.6,320.6 Q393.3,302.9 398.4,285.1 Q396.7,304.7 395.5,320.6 Z"/><path d="M410.3,320.6 Q411.7,307.7 408.7,294.7 Q414.1,309.0 417.6,320.6 Z"/><path d="M398.1,320.7 Q402.3,308.3 406.7,296.0 Q405.6,309.6 404.9,320.7 Z"/><path d="M388.8,321.1 Q390.5,311.7 390.0,302.2 Q392.6,312.6 394.3,321.1 Z"/><path d="M399.4,321.2 Q404.1,308.6 408.6,295.9 Q407.7,309.8 407.1,321.2 Z"/><path d="M409.9,321.2 Q412.6,314.3 413.7,307.3 Q415.2,315.0 416.2,321.2 Z"/><path d="M377.9,321.9 Q380.9,307.1 382.7,292.3 Q383.4,308.6 384.0,321.9 Z"/><path d="M364.7,322.0 Q368.2,307.4 370.0,292.9 Q371.3,308.9 372.2,322.0 Z"/><path d="M398.4,322.0 Q399.1,312.1 396.3,302.1 Q400.8,313.1 403.8,322.0 Z"/><path d="M386.0,322.1 Q387.7,313.0 386.4,304.0 Q390.0,314.0 392.4,322.1 Z"/><path d="M356.9,322.1 Q360.2,315.2 361.9,308.4 Q363.3,315.9 364.3,322.1 Z"/><path d="M390.6,322.1 Q392.0,308.3 388.8,294.4 Q394.5,309.6 398.4,322.1 Z"/><path d="M371.1,322.3 Q372.2,312.2 370.1,302.1 Q373.9,313.2 376.5,322.3 Z"/><path d="M377.0,322.7 Q379.9,310.1 382.2,297.6 Q382.2,311.4 382.2,322.7 Z"/><path d="M401.2,323.1 Q403.8,307.2 403.5,291.3 Q406.6,308.8 408.7,323.1 Z"/><path d="M362.6,323.3 Q366.3,311.6 370.8,300.0 Q368.8,312.8 367.5,323.3 Z"/><path d="M412.2,323.5 Q414.3,314.3 413.2,305.1 Q416.8,315.2 419.2,323.5 Z"/><path d="M412.4,323.7 Q414.7,309.7 415.2,295.8 Q417.2,311.1 418.5,323.7 Z"/><path d="M396.2,324.2 Q398.1,311.3 397.3,298.4 Q400.5,312.6 402.6,324.2 Z"/><path d="M368.6,324.3 Q371.4,315.2 372.8,306.1 Q374.1,316.1 375.0,324.3 Z"/><path d="M388.9,324.6 Q389.6,309.1 384.9,293.7 Q391.7,310.7 396.3,324.6 Z"/><path d="M399.8,324.8 Q402.9,316.5 405.5,308.1 Q405.4,317.3 405.4,324.8 Z"/><path d="M406.0,324.8 Q407.8,317.3 406.2,309.8 Q410.2,318.1 412.8,324.8 Z"/></g>
<ellipse cx="1366" cy="207" rx="40.3" ry="17.1" fill="url(#gWShadow)"/><g fill="url(#gWheat)"><path d="M1368.0,201.7 Q1368.3,164.6 1370.2,131.6 Q1375.2,124.6 1380.2,126.6 Q1376.9,164.6 1375.2,201.7 Z"/><path d="M1348.2,210.3 Q1344.5,182.7 1338.4,159.1 Q1342.7,152.1 1347.1,154.1 Q1352.7,182.7 1355.9,210.3 Z"/><path d="M1356.1,208.5 Q1356.0,171.6 1352.9,138.7 Q1357.2,131.7 1361.5,133.7 Q1363.7,171.6 1363.0,208.5 Z"/><path d="M1373.1,206.9 Q1378.4,156.5 1384.7,110.0 Q1389.5,103.0 1394.4,105.0 Q1387.4,156.5 1381.4,206.9 Z"/><path d="M1349.8,204.6 Q1342.9,155.3 1339.7,110.0 Q1344.7,103.0 1349.7,105.0 Q1352.0,155.3 1358.1,204.6 Z"/><path d="M1359.7,212.9 Q1358.8,162.7 1358.6,116.4 Q1363.9,109.4 1369.3,111.4 Q1368.3,162.7 1368.0,212.9 Z"/><path d="M1345.2,208.6 Q1341.1,163.7 1334.5,122.7 Q1339.8,115.7 1345.0,117.7 Q1349.8,163.7 1352.2,208.6 Z"/><path d="M1366.4,204.5 Q1368.0,161.8 1369.1,123.2 Q1374.1,116.2 1379.1,118.2 Q1376.4,161.8 1373.3,204.5 Z"/><path d="M1358.9,202.2 Q1357.6,154.1 1355.6,110.0 Q1360.8,103.0 1366.0,105.0 Q1366.8,154.1 1366.9,202.2 Z"/><path d="M1353.7,210.3 Q1348.0,158.2 1345.2,110.0 Q1350.5,103.0 1355.8,105.0 Q1356.7,158.2 1360.5,210.3 Z"/><path d="M1369.9,210.2 Q1375.4,161.4 1377.7,116.5 Q1382.8,109.5 1387.9,111.5 Q1384.5,161.4 1377.8,210.2 Z"/><path d="M1363.9,210.0 Q1365.2,158.0 1364.7,110.0 Q1369.0,103.0 1373.4,105.0 Q1372.8,158.0 1370.5,210.0 Z"/></g><ellipse cx="1494" cy="203" rx="44.9" ry="19.0" fill="url(#gWShadow)"/><g fill="url(#gWheat)"><path d="M1482.8,201.6 Q1481.8,149.8 1479.4,102.0 Q1484.7,95.0 1490.0,97.0 Q1490.5,149.8 1489.6,201.6 Z"/><path d="M1496.7,211.4 Q1499.3,177.5 1500.8,147.5 Q1506.0,140.5 1511.3,142.5 Q1508.3,177.5 1504.2,211.4 Z"/><path d="M1473.2,196.1 Q1467.4,166.9 1460.4,141.7 Q1464.8,134.7 1469.2,136.7 Q1475.2,166.9 1480.1,196.1 Z"/><path d="M1495.2,210.5 Q1498.1,170.5 1500.6,134.6 Q1505.0,127.6 1509.5,129.6 Q1506.7,170.5 1503.5,210.5 Z"/><path d="M1502.9,200.1 Q1508.4,149.1 1512.6,102.0 Q1517.8,95.0 1523.0,97.0 Q1517.2,149.1 1510.4,200.1 Z"/><path d="M1490.0,202.7 Q1489.7,163.5 1489.1,128.4 Q1494.1,121.4 1499.1,123.4 Q1498.3,163.5 1497.1,202.7 Z"/><path d="M1500.1,198.8 Q1504.3,158.6 1505.8,122.4 Q1510.6,115.4 1515.4,117.4 Q1513.3,158.6 1508.4,198.8 Z"/><path d="M1478.1,202.6 Q1474.5,150.3 1468.1,102.0 Q1472.6,95.0 1477.1,97.0 Q1482.5,150.3 1485.2,202.6 Z"/><path d="M1484.6,197.2 Q1482.9,167.8 1481.9,142.4 Q1486.8,135.4 1491.6,137.4 Q1491.5,167.8 1492.1,197.2 Z"/><path d="M1475.5,206.9 Q1470.6,152.5 1464.3,102.0 Q1469.8,95.0 1475.2,97.0 Q1479.9,152.5 1483.2,206.9 Z"/><path d="M1492.1,196.1 Q1492.8,165.1 1494.3,138.1 Q1499.1,131.1 1503.9,133.1 Q1501.2,165.1 1499.3,196.1 Z"/><path d="M1481.2,203.0 Q1478.5,150.5 1477.7,102.0 Q1482.7,95.0 1487.8,97.0 Q1487.4,150.5 1489.1,203.0 Z"/></g>
<ellipse cx="1266" cy="264" rx="43.6" ry="18.5" fill="url(#gWShadow)"/><g fill="url(#gWheat)"><path d="M1258.5,271.6 Q1254.8,233.7 1252.6,199.9 Q1257.7,192.9 1262.8,194.9 Q1263.7,233.7 1266.2,271.6 Z"/><path d="M1275.4,273.6 Q1276.3,242.1 1279.4,214.6 Q1284.9,207.6 1290.3,209.6 Q1285.9,242.1 1283.7,273.6 Z"/><path d="M1264.9,272.3 Q1263.4,244.6 1263.8,220.9 Q1268.8,213.9 1273.7,215.9 Q1272.4,244.6 1273.0,272.3 Z"/><path d="M1250.2,275.0 Q1246.4,234.3 1242.4,197.6 Q1247.2,190.6 1251.9,192.6 Q1255.0,234.3 1257.8,275.0 Z"/><path d="M1259.9,270.6 Q1257.6,236.4 1257.8,206.2 Q1262.3,199.2 1266.7,201.2 Q1265.9,236.4 1267.7,270.6 Z"/><path d="M1274.4,264.1 Q1280.9,231.0 1283.5,201.9 Q1288.2,194.9 1292.9,196.9 Q1289.6,231.0 1282.4,264.1 Z"/><path d="M1251.5,270.5 Q1247.2,244.3 1241.2,222.0 Q1245.5,215.0 1249.9,217.0 Q1254.8,244.3 1258.1,270.5 Z"/><path d="M1279.7,266.2 Q1284.8,233.0 1286.8,203.8 Q1291.6,196.8 1296.3,198.8 Q1293.1,233.0 1286.7,266.2 Z"/><path d="M1254.4,275.3 Q1252.0,246.1 1248.3,220.9 Q1253.3,213.9 1258.3,215.9 Q1261.0,246.1 1262.4,275.3 Z"/><path d="M1264.2,274.8 Q1262.7,250.9 1260.7,230.9 Q1265.3,223.9 1269.9,225.9 Q1270.6,250.9 1270.7,274.8 Z"/><path d="M1269.1,273.1 Q1270.9,233.8 1272.0,198.5 Q1277.4,191.5 1282.8,193.5 Q1280.1,233.8 1276.7,273.1 Z"/><path d="M1270.7,271.0 Q1273.9,248.3 1275.7,229.6 Q1280.9,222.6 1286.2,224.6 Q1282.5,248.3 1277.3,271.0 Z"/></g><ellipse cx="1435" cy="286" rx="43.6" ry="18.5" fill="url(#gWShadow)"/><g fill="url(#gWheat)"><path d="M1416.0,284.9 Q1413.2,236.2 1406.6,191.5 Q1411.9,184.5 1417.2,186.5 Q1422.3,236.2 1423.4,284.9 Z"/><path d="M1429.2,282.4 Q1426.2,233.2 1426.0,188.0 Q1430.9,181.0 1435.8,183.0 Q1434.5,233.2 1435.9,282.4 Z"/><path d="M1436.0,294.1 Q1440.3,258.7 1441.6,227.4 Q1446.4,220.4 1451.2,222.4 Q1448.9,258.7 1443.6,294.1 Z"/><path d="M1442.3,287.9 Q1445.9,244.4 1451.9,204.9 Q1456.6,197.9 1461.3,199.9 Q1454.4,244.4 1449.6,287.9 Z"/><path d="M1432.5,286.8 Q1434.9,251.2 1434.8,219.6 Q1439.6,212.6 1444.3,214.6 Q1443.5,251.2 1440.3,286.8 Z"/><path d="M1430.6,294.9 Q1431.7,239.5 1430.7,188.0 Q1436.2,181.0 1441.7,183.0 Q1441.0,239.5 1438.1,294.9 Z"/><path d="M1443.7,284.4 Q1447.0,234.2 1452.2,188.0 Q1456.5,181.0 1460.8,183.0 Q1455.2,234.2 1451.5,284.4 Z"/><path d="M1415.0,281.2 Q1408.6,247.8 1405.5,218.4 Q1410.6,211.4 1415.7,213.4 Q1417.1,247.8 1421.9,281.2 Z"/><path d="M1419.9,290.0 Q1415.4,240.8 1414.2,195.7 Q1419.7,188.7 1425.1,190.7 Q1424.4,240.8 1427.0,290.0 Z"/><path d="M1423.2,292.2 Q1421.3,254.7 1416.2,221.2 Q1420.9,214.2 1425.6,216.2 Q1429.8,254.7 1430.8,292.2 Z"/><path d="M1438.6,292.1 Q1437.8,251.1 1440.7,214.1 Q1445.9,207.1 1451.2,209.1 Q1446.7,251.1 1446.0,292.1 Z"/><path d="M1424.5,295.5 Q1424.7,265.3 1422.4,239.0 Q1427.6,232.0 1432.9,234.0 Q1433.9,265.3 1432.3,295.5 Z"/></g>
<path fill="#12120c" d="M966,120 L999,120 L1000,172 L964,172 Z"/>
<g fill="url(#gTC)">
<circle cx="940" cy="31" r="31"/>
<circle cx="975" cy="30" r="30"/>
<circle cx="1005" cy="45" r="45"/>
<circle cx="937" cy="80" r="29"/>
<circle cx="952" cy="108" r="27"/>
<circle cx="1003" cy="108" r="34"/>
<circle cx="985" cy="80" r="40"/>
<circle cx="908" cy="67" r="12"/>
</g>
<g fill="url(#gTA)">
<circle cx="703" cy="106" r="67"/>
<circle cx="706" cy="49" r="13"/>
<circle cx="642" cy="114" r="17"/>
<circle cx="665" cy="130" r="30"/>
<circle cx="740" cy="135" r="35"/>
<circle cx="760" cy="122" r="17"/>
<circle cx="672" cy="60" r="14"/>
</g>
<path fill="#12120c" d="M833,240 L860,240 L862,286 L831,286 Z"/>
<g fill="url(#gTD)">
<circle cx="800" cy="152" r="30"/>
<circle cx="846" cy="145" r="45"/>
<circle cx="800" cy="215" r="36"/>
<circle cx="838" cy="212" r="42"/>
</g>
<path fill="#12120c" d="M897,240 L924,240 C926,290 930,330 942,356 L884,356 C892,330 895,290 897,240 Z"/>
<path fill="#12120c" d="M1131,185 L1158,185 C1159,230 1162,255 1170,271 L1130,271 C1132,250 1131,220 1131,185 Z"/>
<circle cx="1100" cy="329" r="43.5" fill="#000"/>
<path fill="#12120c" d="M1035,270 L1065,270 C1066,310 1068,335 1076,351 L1026,351 C1033,335 1034,310 1035,270 Z"/>
<g fill="url(#gTE)">
<circle cx="1008" cy="168" r="38"/>
<circle cx="1060" cy="205" r="62"/>
<circle cx="1016" cy="265" r="34"/>
<circle cx="1050" cy="255" r="40"/>
<circle cx="1088" cy="260" r="37"/>
<circle cx="1105" cy="240" r="33"/>
<circle cx="1095" cy="200" r="32"/>
</g>
<g fill="#4a7a43"><ellipse cx="842.0" cy="61.0" rx="30.0" ry="22.0"/>
<ellipse cx="789.5" cy="77.0" rx="4.5" ry="3.0"/>
<ellipse cx="833.0" cy="107.5" rx="46.0" ry="8.5"/>
<ellipse cx="916.0" cy="134.0" rx="38.0" ry="13.0"/>
<ellipse cx="901.0" cy="163.0" rx="54.0" ry="18.0"/>
<ellipse cx="909.5" cy="207.0" rx="86.5" ry="15.0"/>
<ellipse cx="913.0" cy="247.0" rx="90.0" ry="18.0"/>
<ellipse cx="970.5" cy="278.0" rx="32.5" ry="18.0"/>
<ellipse cx="857.5" cy="298.0" rx="34.5" ry="20.0"/>
<ellipse cx="738.5" cy="268.5" rx="64.5" ry="18.5"/>
<ellipse cx="797.0" cy="319.5" rx="12.0" ry="11.5"/>
<ellipse cx="779.5" cy="125.0" rx="8.5" ry="2.0"/>
<ellipse cx="785.0" cy="220.0" rx="3.0" ry="12.0"/>
<ellipse cx="1186.0" cy="208.0" rx="36.0" ry="12.0"/></g>
<g fill="url(#gBub)"><ellipse cx="837.7" cy="37.9" rx="13.9" ry="10.6"/>
<ellipse cx="842.0" cy="38.3" rx="13.6" ry="10.4"/>
<ellipse cx="828.5" cy="41.5" rx="14.2" ry="10.8"/>
<ellipse cx="832.0" cy="43.8" rx="19.5" ry="14.8"/>
<ellipse cx="870.0" cy="45.4" rx="13.6" ry="10.3"/>
<ellipse cx="814.0" cy="48.3" rx="18.5" ry="14.0"/>
<ellipse cx="846.0" cy="54.2" rx="22.8" ry="17.3"/>
<ellipse cx="813.1" cy="58.4" rx="13.4" ry="10.2"/>
<ellipse cx="816.1" cy="59.6" rx="16.7" ry="12.7"/>
<ellipse cx="827.5" cy="62.8" rx="22.5" ry="17.1"/>
<ellipse cx="846.9" cy="64.1" rx="16.7" ry="12.7"/>
<ellipse cx="829.9" cy="72.5" rx="14.8" ry="11.3"/>
<ellipse cx="837.2" cy="73.1" rx="14.2" ry="10.8"/>
<ellipse cx="781.2" cy="73.9" rx="15.4" ry="11.7"/>
<ellipse cx="787.9" cy="74.4" rx="17.5" ry="13.3"/>
<ellipse cx="788.5" cy="74.6" rx="20.0" ry="15.2"/>
<ellipse cx="786.9" cy="74.9" rx="17.3" ry="13.1"/>
<ellipse cx="797.8" cy="75.9" rx="18.7" ry="14.2"/>
<ellipse cx="818.5" cy="98.8" rx="15.8" ry="12.0"/>
<ellipse cx="847.5" cy="99.4" rx="16.9" ry="12.8"/>
<ellipse cx="866.1" cy="102.1" rx="20.0" ry="15.2"/>
<ellipse cx="799.7" cy="103.5" rx="20.6" ry="15.6"/>
<ellipse cx="799.2" cy="104.3" rx="13.4" ry="10.2"/>
<ellipse cx="841.6" cy="105.8" rx="17.6" ry="13.3"/>
<ellipse cx="876.5" cy="105.9" rx="19.7" ry="15.0"/>
<ellipse cx="849.9" cy="105.9" rx="22.9" ry="17.4"/>
<ellipse cx="789.5" cy="106.8" rx="21.2" ry="16.1"/>
<ellipse cx="830.5" cy="107.8" rx="13.6" ry="10.3"/>
<ellipse cx="848.1" cy="108.3" rx="18.7" ry="14.2"/>
<ellipse cx="835.2" cy="109.3" rx="20.3" ry="15.4"/>
<ellipse cx="937.0" cy="121.0" rx="15.5" ry="11.8"/>
<ellipse cx="916.0" cy="121.5" rx="17.2" ry="13.1"/>
<ellipse cx="890.6" cy="123.7" rx="15.3" ry="11.7"/>
<ellipse cx="882.7" cy="124.1" rx="13.0" ry="9.9"/>
<ellipse cx="949.3" cy="126.3" rx="16.7" ry="12.7"/>
<ellipse cx="910.1" cy="128.2" rx="21.8" ry="16.6"/>
<ellipse cx="878.1" cy="129.9" rx="14.7" ry="11.2"/>
<ellipse cx="912.5" cy="132.0" rx="21.8" ry="16.6"/>
<ellipse cx="914.8" cy="133.4" rx="15.6" ry="11.9"/>
<ellipse cx="940.9" cy="140.7" rx="15.8" ry="12.0"/>
<ellipse cx="907.2" cy="141.7" rx="13.8" ry="10.5"/>
<ellipse cx="916.2" cy="142.9" rx="13.7" ry="10.4"/>
<ellipse cx="874.6" cy="145.7" rx="13.3" ry="10.1"/>
<ellipse cx="887.1" cy="145.7" rx="21.7" ry="16.5"/>
<ellipse cx="938.3" cy="146.6" rx="13.2" ry="10.1"/>
<ellipse cx="901.0" cy="146.7" rx="18.3" ry="13.9"/>
<ellipse cx="913.6" cy="147.0" rx="15.5" ry="11.8"/>
<ellipse cx="869.2" cy="147.9" rx="16.4" ry="12.5"/>
<ellipse cx="927.4" cy="151.4" rx="22.8" ry="17.3"/>
<ellipse cx="857.2" cy="154.2" rx="15.6" ry="11.9"/>
<ellipse cx="883.9" cy="154.8" rx="14.2" ry="10.8"/>
<ellipse cx="888.9" cy="156.1" rx="14.0" ry="10.7"/>
<ellipse cx="848.2" cy="156.5" rx="18.4" ry="14.0"/>
<ellipse cx="953.8" cy="158.4" rx="21.6" ry="16.4"/>
<ellipse cx="897.2" cy="159.4" rx="13.9" ry="10.5"/>
<ellipse cx="951.4" cy="161.1" rx="14.5" ry="11.0"/>
<ellipse cx="902.6" cy="163.8" rx="19.8" ry="15.0"/>
<ellipse cx="929.7" cy="171.6" rx="21.0" ry="15.9"/>
<ellipse cx="907.9" cy="174.5" rx="19.9" ry="15.1"/>
<ellipse cx="883.7" cy="188.3" rx="13.3" ry="10.1"/>
<ellipse cx="909.5" cy="191.1" rx="14.5" ry="11.0"/>
<ellipse cx="949.3" cy="193.3" rx="14.3" ry="10.8"/>
<ellipse cx="885.7" cy="195.3" rx="15.3" ry="11.6"/>
<ellipse cx="881.4" cy="195.9" rx="21.1" ry="16.0"/>
<ellipse cx="937.6" cy="196.1" rx="21.3" ry="16.2"/>
<ellipse cx="857.9" cy="196.1" rx="19.2" ry="14.6"/>
<ellipse cx="950.7" cy="196.3" rx="18.2" ry="13.8"/>
<ellipse cx="943.6" cy="196.9" rx="16.7" ry="12.7"/>
<ellipse cx="872.2" cy="197.7" rx="19.9" ry="15.1"/>
<ellipse cx="958.5" cy="198.7" rx="15.2" ry="11.6"/>
<ellipse cx="853.2" cy="199.5" rx="22.0" ry="16.8"/>
<ellipse cx="965.8" cy="200.0" rx="22.8" ry="17.3"/>
<ellipse cx="825.1" cy="201.6" rx="14.5" ry="11.0"/>
<ellipse cx="892.3" cy="201.7" rx="22.5" ry="17.1"/>
<ellipse cx="985.1" cy="202.8" rx="22.4" ry="17.0"/>
<ellipse cx="993.9" cy="204.6" rx="19.6" ry="14.9"/>
<ellipse cx="840.5" cy="207.8" rx="22.1" ry="16.8"/>
<ellipse cx="906.1" cy="207.8" rx="21.0" ry="16.0"/>
<ellipse cx="958.1" cy="211.1" rx="17.8" ry="13.5"/>
<ellipse cx="968.5" cy="211.6" rx="21.2" ry="16.1"/>
<ellipse cx="852.4" cy="211.6" rx="18.3" ry="13.9"/>
<ellipse cx="853.5" cy="212.7" rx="16.3" ry="12.4"/>
<ellipse cx="883.9" cy="230.1" rx="15.6" ry="11.9"/>
<ellipse cx="913.0" cy="230.9" rx="18.6" ry="14.1"/>
<ellipse cx="899.0" cy="233.0" rx="22.1" ry="16.8"/>
<ellipse cx="942.1" cy="234.2" rx="22.4" ry="17.0"/>
<ellipse cx="924.0" cy="234.8" rx="15.8" ry="12.0"/>
<ellipse cx="860.5" cy="234.9" rx="15.9" ry="12.1"/>
<ellipse cx="971.3" cy="236.9" rx="21.4" ry="16.3"/>
<ellipse cx="854.7" cy="237.5" rx="22.4" ry="17.0"/>
<ellipse cx="923.1" cy="238.1" rx="18.2" ry="13.8"/>
<ellipse cx="1000.4" cy="240.1" rx="14.4" ry="10.9"/>
<ellipse cx="982.9" cy="241.7" rx="22.2" ry="16.9"/>
<ellipse cx="824.8" cy="241.7" rx="14.8" ry="11.3"/>
<ellipse cx="947.4" cy="242.4" rx="18.3" ry="13.9"/>
<ellipse cx="887.0" cy="242.6" rx="18.8" ry="14.3"/>
<ellipse cx="855.4" cy="243.2" rx="20.3" ry="15.4"/>
<ellipse cx="933.1" cy="244.2" rx="18.1" ry="13.8"/>
<ellipse cx="961.4" cy="244.3" rx="18.6" ry="14.1"/>
<ellipse cx="825.6" cy="244.5" rx="21.8" ry="16.5"/>
<ellipse cx="938.9" cy="244.8" rx="22.3" ry="17.0"/>
<ellipse cx="913.3" cy="245.1" rx="18.2" ry="13.9"/>
<ellipse cx="885.5" cy="245.9" rx="14.3" ry="10.9"/>
<ellipse cx="865.7" cy="247.2" rx="15.6" ry="11.9"/>
<ellipse cx="923.2" cy="255.0" rx="14.1" ry="10.7"/>
<ellipse cx="901.5" cy="255.4" rx="21.3" ry="16.2"/>
<ellipse cx="909.1" cy="258.1" rx="20.0" ry="15.2"/>
<ellipse cx="959.7" cy="258.4" rx="17.4" ry="13.2"/>
<ellipse cx="954.6" cy="261.2" rx="19.7" ry="15.0"/>
<ellipse cx="970.5" cy="262.2" rx="19.2" ry="14.6"/>
<ellipse cx="992.0" cy="263.2" rx="17.3" ry="13.2"/>
<ellipse cx="940.8" cy="266.7" rx="16.3" ry="12.4"/>
<ellipse cx="1000.2" cy="267.8" rx="18.1" ry="13.8"/>
<ellipse cx="971.6" cy="269.0" rx="15.0" ry="11.4"/>
<ellipse cx="974.3" cy="272.6" rx="13.2" ry="10.0"/>
<ellipse cx="944.1" cy="272.7" rx="13.7" ry="10.4"/>
<ellipse cx="964.7" cy="274.6" rx="22.9" ry="17.4"/>
<ellipse cx="985.4" cy="281.1" rx="14.4" ry="11.0"/>
<ellipse cx="957.7" cy="283.8" rx="13.2" ry="10.0"/>
<ellipse cx="990.0" cy="290.1" rx="14.5" ry="11.1"/>
<ellipse cx="857.5" cy="277.7" rx="14.6" ry="11.1"/>
<ellipse cx="842.6" cy="283.2" rx="22.2" ry="16.9"/>
<ellipse cx="888.5" cy="283.6" rx="13.5" ry="10.3"/>
<ellipse cx="826.5" cy="284.0" rx="14.1" ry="10.7"/>
<ellipse cx="828.2" cy="284.9" rx="13.4" ry="10.2"/>
<ellipse cx="877.9" cy="285.3" rx="14.3" ry="10.9"/>
<ellipse cx="882.9" cy="293.2" rx="16.4" ry="12.5"/>
<ellipse cx="831.0" cy="296.1" rx="15.4" ry="11.7"/>
<ellipse cx="827.0" cy="302.3" rx="17.3" ry="13.1"/>
<ellipse cx="862.7" cy="303.6" rx="13.9" ry="10.6"/>
<ellipse cx="867.4" cy="307.9" rx="13.8" ry="10.5"/>
<ellipse cx="852.6" cy="309.3" rx="21.2" ry="16.1"/>
<ellipse cx="861.3" cy="312.4" rx="15.7" ry="11.9"/>
<ellipse cx="738.5" cy="248.6" rx="13.0" ry="9.9"/>
<ellipse cx="769.1" cy="252.2" rx="15.6" ry="11.9"/>
<ellipse cx="707.9" cy="253.6" rx="18.0" ry="13.7"/>
<ellipse cx="760.9" cy="257.2" rx="15.4" ry="11.7"/>
<ellipse cx="771.7" cy="258.1" rx="18.0" ry="13.7"/>
<ellipse cx="731.9" cy="258.4" rx="22.6" ry="17.2"/>
<ellipse cx="699.6" cy="258.5" rx="16.1" ry="12.2"/>
<ellipse cx="799.7" cy="259.0" rx="13.9" ry="10.6"/>
<ellipse cx="695.2" cy="259.3" rx="13.2" ry="10.0"/>
<ellipse cx="677.3" cy="259.7" rx="15.0" ry="11.4"/>
<ellipse cx="781.2" cy="261.7" rx="18.1" ry="13.7"/>
<ellipse cx="756.2" cy="262.0" rx="16.5" ry="12.5"/>
<ellipse cx="779.3" cy="263.1" rx="18.0" ry="13.6"/>
<ellipse cx="711.1" cy="263.9" rx="14.6" ry="11.1"/>
<ellipse cx="723.4" cy="264.6" rx="18.0" ry="13.7"/>
<ellipse cx="800.6" cy="267.3" rx="15.4" ry="11.7"/>
<ellipse cx="769.3" cy="267.5" rx="14.9" ry="11.3"/>
<ellipse cx="682.2" cy="274.6" rx="15.6" ry="11.8"/>
<ellipse cx="718.9" cy="276.4" rx="20.1" ry="15.3"/>
<ellipse cx="735.1" cy="282.7" rx="14.1" ry="10.7"/>
<ellipse cx="794.0" cy="304.4" rx="13.2" ry="10.1"/>
<ellipse cx="785.0" cy="308.6" rx="13.4" ry="10.2"/>
<ellipse cx="792.8" cy="311.1" rx="18.9" ry="14.3"/>
<ellipse cx="809.0" cy="313.3" rx="21.4" ry="16.2"/>
<ellipse cx="789.7" cy="320.9" rx="19.4" ry="14.8"/>
<ellipse cx="797.6" cy="321.4" rx="19.6" ry="14.9"/>
<ellipse cx="802.3" cy="325.0" rx="16.9" ry="12.8"/>
<ellipse cx="779.6" cy="120.9" rx="21.0" ry="16.0"/>
<ellipse cx="784.4" cy="121.7" rx="20.3" ry="15.5"/>
<ellipse cx="784.3" cy="122.0" rx="18.2" ry="13.9"/>
<ellipse cx="789.8" cy="125.5" rx="18.8" ry="14.3"/>
<ellipse cx="769.2" cy="127.0" rx="21.3" ry="16.2"/>
<ellipse cx="777.5" cy="212.2" rx="19.3" ry="14.6"/>
<ellipse cx="792.5" cy="212.5" rx="19.8" ry="15.1"/>
<ellipse cx="781.2" cy="213.3" rx="14.0" ry="10.7"/>
<ellipse cx="786.0" cy="218.2" rx="19.3" ry="14.7"/>
<ellipse cx="785.8" cy="220.7" rx="19.9" ry="15.1"/>
<ellipse cx="1167.6" cy="194.5" rx="15.7" ry="11.9"/>
<ellipse cx="1186.0" cy="195.4" rx="15.5" ry="11.8"/>
<ellipse cx="1185.3" cy="195.6" rx="21.0" ry="15.9"/>
<ellipse cx="1196.8" cy="196.5" rx="20.4" ry="15.5"/>
<ellipse cx="1201.5" cy="199.2" rx="20.4" ry="15.5"/>
<ellipse cx="1154.0" cy="199.6" rx="14.5" ry="11.0"/>
<ellipse cx="1218.0" cy="203.2" rx="20.4" ry="15.5"/>
<ellipse cx="1220.5" cy="204.9" rx="16.8" ry="12.8"/>
<ellipse cx="1203.5" cy="205.1" rx="18.4" ry="13.9"/>
<ellipse cx="1184.6" cy="208.5" rx="20.7" ry="15.7"/>
<ellipse cx="1195.0" cy="208.8" rx="13.8" ry="10.5"/></g>
<g fill="url(#gBlade)"><path d="M890.2,359.2 Q894.3,338.0 899.2,316.8 Q897.2,340.2 895.8,359.2 Z"/><path d="M924.6,359.6 Q926.6,335.1 924.6,310.5 Q929.3,337.5 932.4,359.6 Z"/><path d="M912.9,359.7 Q915.5,342.0 916.1,324.4 Q918.1,343.8 919.4,359.7 Z"/><path d="M895.6,359.8 Q896.6,331.1 894.3,302.3 Q898.5,333.9 901.3,359.8 Z"/><path d="M874.4,360.8 Q878.7,338.9 884.3,317.0 Q881.6,341.1 879.7,360.8 Z"/><path d="M887.6,360.9 Q891.3,343.6 894.2,326.3 Q894.5,345.3 894.7,360.9 Z"/><path d="M933.3,361.0 Q936.6,345.3 940.3,329.6 Q939.1,346.9 938.3,361.0 Z"/><path d="M876.4,361.1 Q879.3,342.6 880.8,324.0 Q882.0,344.4 882.8,361.1 Z"/><path d="M869.2,362.1 Q872.1,348.6 872.9,335.0 Q875.1,349.9 876.5,362.1 Z"/><path d="M885.6,362.4 Q887.7,341.1 887.9,319.9 Q890.0,343.3 891.4,362.4 Z"/><path d="M890.6,362.7 Q891.4,338.0 888.3,313.3 Q893.2,340.4 896.4,362.7 Z"/><path d="M890.5,362.7 Q892.4,349.9 891.0,337.1 Q895.0,351.2 897.7,362.7 Z"/><path d="M928.4,363.4 Q929.2,341.0 924.7,318.7 Q931.5,343.3 936.0,363.4 Z"/><path d="M916.0,363.5 Q916.1,344.4 910.4,325.3 Q918.1,346.3 923.3,363.5 Z"/><path d="M905.7,363.5 Q905.3,340.4 899.3,317.2 Q906.8,342.7 911.9,363.5 Z"/><path d="M926.2,363.7 Q927.2,350.0 925.4,336.3 Q928.9,351.4 931.3,363.7 Z"/><path d="M912.0,363.9 Q918.3,338.0 927.2,312.1 Q922.3,340.6 919.1,363.9 Z"/><path d="M898.9,364.0 Q900.5,340.1 897.6,316.2 Q903.1,342.5 906.8,364.0 Z"/><path d="M888.4,364.2 Q891.8,346.4 893.6,328.5 Q895.0,348.2 895.9,364.2 Z"/><path d="M930.5,364.4 Q934.2,340.4 939.1,316.5 Q936.7,342.8 935.1,364.4 Z"/><path d="M902.7,365.6 Q904.4,345.9 904.9,326.3 Q906.2,347.9 907.2,365.6 Z"/><path d="M919.7,365.7 Q922.6,349.0 925.0,332.3 Q925.0,350.7 925.0,365.7 Z"/><path d="M932.8,365.9 Q935.9,351.4 938.6,337.0 Q938.2,352.9 937.9,365.9 Z"/><path d="M902.3,365.9 Q904.8,347.1 904.8,328.3 Q907.4,349.0 909.1,365.9 Z"/><path d="M903.8,365.9 Q908.6,345.2 915.2,324.4 Q911.7,347.2 909.4,365.9 Z"/><path d="M901.7,365.9 Q903.1,348.4 899.9,330.8 Q905.5,350.1 909.3,365.9 Z"/><path d="M903.0,366.0 Q904.8,351.5 902.9,337.0 Q907.3,353.0 910.2,366.0 Z"/><path d="M872.4,366.1 Q875.4,353.0 878.0,340.0 Q877.7,354.3 877.5,366.1 Z"/><path d="M892.4,366.1 Q894.0,352.3 891.3,338.5 Q896.6,353.7 900.1,366.1 Z"/><path d="M897.7,366.3 Q900.4,343.2 900.6,320.2 Q903.3,345.5 905.1,366.3 Z"/><path d="M881.2,366.4 Q882.1,349.7 880.4,333.1 Q883.7,351.4 885.9,366.4 Z"/><path d="M887.8,366.6 Q890.9,342.7 891.7,318.7 Q894.0,345.0 895.5,366.6 Z"/><path d="M876.9,366.8 Q878.0,345.4 874.2,324.0 Q880.5,347.5 884.7,366.8 Z"/><path d="M905.5,367.1 Q907.6,351.6 906.1,336.1 Q910.4,353.2 913.3,367.1 Z"/><path d="M903.3,367.3 Q902.9,338.5 897.8,309.7 Q904.0,341.4 908.1,367.3 Z"/><path d="M893.0,367.4 Q897.1,352.7 902.1,338.1 Q899.9,354.2 898.5,367.4 Z"/><path d="M899.5,367.6 Q900.3,351.4 898.6,335.1 Q901.8,353.0 904.0,367.6 Z"/><path d="M1056.9,360.6 Q1058.1,347.6 1055.2,334.7 Q1060.3,348.9 1063.7,360.6 Z"/><path d="M1039.6,361.0 Q1045.2,337.5 1052.6,314.0 Q1048.8,339.9 1046.3,361.0 Z"/><path d="M1063.7,361.3 Q1069.0,342.2 1075.5,323.1 Q1072.5,344.1 1070.5,361.3 Z"/><path d="M1074.6,361.8 Q1076.0,345.3 1074.2,328.7 Q1078.2,346.9 1080.8,361.8 Z"/><path d="M1049.6,361.9 Q1050.1,343.7 1047.0,325.5 Q1051.7,345.5 1054.8,361.9 Z"/><path d="M1060.5,362.0 Q1061.2,338.9 1056.7,315.7 Q1063.4,341.2 1067.8,362.0 Z"/><path d="M1065.6,362.2 Q1070.1,337.7 1074.0,313.2 Q1073.6,340.2 1073.3,362.2 Z"/><path d="M1070.8,362.5 Q1073.7,347.7 1076.3,332.8 Q1076.1,349.1 1076.0,362.5 Z"/><path d="M1048.0,363.1 Q1049.5,335.6 1048.7,308.0 Q1051.2,338.3 1053.0,363.1 Z"/><path d="M1020.9,363.4 Q1022.8,351.2 1021.2,339.0 Q1025.4,352.4 1028.2,363.4 Z"/><path d="M1061.8,363.5 Q1065.8,341.5 1070.5,319.6 Q1068.7,343.7 1067.5,363.5 Z"/><path d="M1073.8,363.7 Q1079.0,341.6 1086.6,319.5 Q1082.3,343.8 1079.4,363.7 Z"/><path d="M1062.7,363.7 Q1066.3,346.6 1069.2,329.5 Q1069.3,348.3 1069.5,363.7 Z"/><path d="M1060.7,364.1 Q1062.3,346.1 1061.9,328.0 Q1064.1,347.9 1065.7,364.1 Z"/><path d="M1069.6,364.1 Q1074.8,343.2 1081.0,322.3 Q1078.5,345.3 1076.8,364.1 Z"/><path d="M1034.7,364.3 Q1036.7,340.1 1036.1,316.0 Q1039.0,342.5 1041.0,364.3 Z"/><path d="M1039.7,364.5 Q1041.0,351.6 1040.2,338.7 Q1042.7,352.9 1044.4,364.5 Z"/><path d="M1075.8,364.5 Q1076.8,344.6 1074.2,324.6 Q1078.6,346.6 1081.5,364.5 Z"/><path d="M1036.8,364.6 Q1037.7,349.4 1033.4,334.2 Q1040.1,350.9 1044.5,364.6 Z"/><path d="M1060.9,364.9 Q1061.1,346.7 1056.7,328.5 Q1062.8,348.6 1066.9,364.9 Z"/><path d="M1023.4,365.0 Q1022.8,345.7 1017.3,326.4 Q1023.9,347.6 1028.3,365.0 Z"/><path d="M1047.5,365.0 Q1050.7,351.6 1051.8,338.3 Q1053.7,353.0 1055.1,365.0 Z"/><path d="M1074.4,366.0 Q1076.3,347.5 1075.4,329.0 Q1078.6,349.4 1080.7,366.0 Z"/><path d="M1030.5,366.2 Q1035.9,346.3 1042.8,326.4 Q1039.6,348.3 1037.4,366.2 Z"/><path d="M1075.0,366.3 Q1078.1,345.3 1080.0,324.2 Q1080.7,347.4 1081.2,366.3 Z"/><path d="M1064.7,366.7 Q1066.1,345.8 1064.0,324.9 Q1068.2,347.9 1071.0,366.7 Z"/><path d="M1064.8,366.7 Q1067.0,354.5 1067.9,342.4 Q1069.1,355.7 1069.8,366.7 Z"/><path d="M1075.8,366.7 Q1075.0,345.2 1069.0,323.7 Q1075.9,347.3 1080.5,366.7 Z"/><path d="M1063.5,366.9 Q1065.9,352.0 1067.3,337.0 Q1068.1,353.5 1068.7,366.9 Z"/><path d="M1074.9,367.0 Q1076.7,348.6 1076.1,330.1 Q1079.0,350.4 1080.8,367.0 Z"/><path d="M1033.7,367.4 Q1037.0,348.4 1038.2,329.3 Q1040.3,350.3 1041.7,367.4 Z"/><path d="M1021.2,368.1 Q1023.5,357.0 1023.8,346.0 Q1025.8,358.2 1027.1,368.1 Z"/><path d="M1077.5,368.5 Q1080.7,350.6 1084.0,332.8 Q1083.0,352.4 1082.4,368.5 Z"/><path d="M1255.2,327.4 Q1258.1,305.7 1259.4,284.0 Q1260.7,307.9 1261.6,327.4 Z"/><path d="M1249.1,327.7 Q1252.8,306.2 1256.8,284.7 Q1255.5,308.4 1254.7,327.7 Z"/><path d="M1279.4,327.7 Q1283.2,304.7 1287.4,281.7 Q1285.9,307.0 1285.0,327.7 Z"/><path d="M1252.7,328.1 Q1254.3,311.0 1251.5,293.9 Q1257.0,312.7 1260.7,328.1 Z"/><path d="M1262.9,328.4 Q1263.6,306.2 1261.2,283.9 Q1265.2,308.4 1267.9,328.4 Z"/><path d="M1297.1,328.5 Q1298.4,316.6 1296.6,304.8 Q1300.3,317.8 1302.7,328.5 Z"/><path d="M1245.0,328.8 Q1248.6,314.2 1251.2,299.7 Q1251.6,315.7 1251.9,328.8 Z"/><path d="M1295.8,328.8 Q1297.9,314.0 1297.8,299.2 Q1300.2,315.5 1301.8,328.8 Z"/><path d="M1276.2,329.0 Q1277.3,303.2 1274.2,277.3 Q1279.5,305.7 1283.0,329.0 Z"/><path d="M1296.4,329.4 Q1298.8,312.0 1297.8,294.5 Q1301.7,313.7 1304.3,329.4 Z"/><path d="M1283.9,329.8 Q1286.1,310.7 1284.8,291.6 Q1289.0,312.6 1291.8,329.8 Z"/><path d="M1293.5,329.9 Q1294.7,310.3 1293.2,290.7 Q1296.4,312.2 1298.6,329.9 Z"/><path d="M1242.0,329.9 Q1243.2,309.1 1239.7,288.3 Q1245.6,311.2 1249.5,329.9 Z"/><path d="M1286.5,330.0 Q1288.6,308.3 1288.9,286.6 Q1290.7,310.4 1291.9,330.0 Z"/><path d="M1241.5,330.7 Q1243.3,315.1 1241.4,299.5 Q1245.8,316.6 1248.7,330.7 Z"/><path d="M1258.3,330.7 Q1261.6,312.2 1263.2,293.7 Q1264.7,314.1 1265.6,330.7 Z"/><path d="M1274.0,331.0 Q1278.6,307.5 1283.4,284.1 Q1282.1,309.9 1281.2,331.0 Z"/><path d="M1264.7,331.4 Q1267.1,316.6 1267.4,301.7 Q1269.7,318.0 1271.3,331.4 Z"/><path d="M1280.0,331.9 Q1281.6,315.0 1279.1,298.2 Q1284.2,316.7 1287.6,331.9 Z"/><path d="M1284.9,332.0 Q1289.4,314.1 1294.8,296.2 Q1292.5,315.9 1291.0,332.0 Z"/><path d="M1286.0,332.2 Q1287.6,310.9 1286.2,289.6 Q1289.7,313.0 1292.1,332.2 Z"/><path d="M1261.5,332.5 Q1266.9,306.6 1272.9,280.7 Q1270.8,309.2 1269.4,332.5 Z"/><path d="M1243.9,332.6 Q1248.6,314.5 1253.6,296.4 Q1252.2,316.3 1251.2,332.6 Z"/><path d="M1252.6,332.8 Q1253.7,309.0 1249.9,285.2 Q1256.1,311.4 1260.2,332.8 Z"/><path d="M1266.5,333.4 Q1268.7,315.6 1268.3,297.9 Q1271.2,317.4 1273.2,333.4 Z"/><path d="M1270.1,333.8 Q1274.7,314.2 1280.6,294.7 Q1277.8,316.2 1275.9,333.8 Z"/><path d="M1278.3,334.0 Q1281.7,311.9 1284.7,289.8 Q1284.5,314.1 1284.3,334.0 Z"/><path d="M1256.5,334.5 Q1259.0,314.6 1259.6,294.7 Q1261.6,316.6 1262.9,334.5 Z"/><path d="M1297.5,334.7 Q1300.1,321.6 1301.7,308.5 Q1302.3,322.9 1302.8,334.7 Z"/><path d="M1294.5,335.3 Q1295.0,321.4 1291.8,307.6 Q1296.5,322.8 1299.6,335.3 Z"/><path d="M1254.8,335.5 Q1257.9,313.8 1261.4,292.2 Q1260.2,316.0 1259.5,335.5 Z"/><path d="M1288.6,335.6 Q1288.9,317.1 1284.3,298.6 Q1290.8,319.0 1295.1,335.6 Z"/><path d="M1262.8,335.8 Q1265.3,319.3 1266.3,302.8 Q1267.7,320.9 1268.6,335.8 Z"/><path d="M1295.8,366.1 Q1297.9,358.1 1296.3,350.0 Q1300.8,358.9 1303.7,366.1 Z"/><path d="M1265.7,366.3 Q1267.7,361.0 1268.1,355.7 Q1269.7,361.5 1270.8,366.3 Z"/><path d="M1260.8,367.2 Q1263.8,358.6 1266.2,350.0 Q1266.2,359.4 1266.2,367.2 Z"/><path d="M1297.6,367.3 Q1300.7,357.9 1302.5,348.6 Q1303.6,358.9 1304.3,367.3 Z"/><path d="M1268.5,367.3 Q1272.2,360.8 1274.5,354.2 Q1275.4,361.4 1276.0,367.3 Z"/><path d="M1283.4,367.4 Q1286.6,360.5 1289.2,353.7 Q1289.4,361.2 1289.5,367.4 Z"/><path d="M1270.3,367.5 Q1272.6,360.4 1271.7,353.3 Q1275.3,361.1 1277.7,367.5 Z"/><path d="M1257.4,367.6 Q1259.8,361.2 1261.6,354.9 Q1261.8,361.9 1262.0,367.6 Z"/><path d="M1282.5,367.7 Q1285.8,355.5 1288.7,343.2 Q1288.6,356.7 1288.5,367.7 Z"/><path d="M1265.8,367.7 Q1268.0,359.8 1267.7,351.9 Q1270.4,360.6 1272.2,367.7 Z"/><path d="M1259.3,367.8 Q1262.8,358.6 1266.3,349.4 Q1265.5,359.5 1265.0,367.8 Z"/><path d="M1288.6,367.8 Q1290.7,357.6 1290.6,347.3 Q1293.1,358.6 1294.7,367.8 Z"/><path d="M1294.4,368.1 Q1296.6,361.5 1295.9,354.9 Q1299.2,362.1 1301.4,368.1 Z"/><path d="M1279.6,368.2 Q1281.9,359.4 1282.6,350.6 Q1284.3,360.3 1285.5,368.2 Z"/><path d="M1285.7,368.5 Q1287.8,356.6 1288.7,344.7 Q1289.7,357.8 1290.3,368.5 Z"/><path d="M1261.0,368.8 Q1263.5,358.9 1264.2,349.0 Q1265.9,359.9 1267.1,368.8 Z"/><path d="M1267.2,368.8 Q1269.8,357.4 1270.6,346.0 Q1272.4,358.5 1273.6,368.8 Z"/><path d="M1282.5,368.9 Q1284.2,360.7 1283.4,352.5 Q1286.3,361.5 1288.3,368.9 Z"/><path d="M1287.7,368.9 Q1289.8,358.8 1290.1,348.8 Q1292.0,359.8 1293.3,368.9 Z"/><path d="M1260.0,368.9 Q1262.3,364.0 1261.9,359.0 Q1264.9,364.5 1267.0,368.9 Z"/><path d="M1268.3,369.0 Q1270.7,363.6 1271.6,358.3 Q1273.0,364.1 1273.9,369.0 Z"/><path d="M1280.2,369.1 Q1284.3,359.6 1287.6,350.0 Q1287.6,360.5 1287.5,369.1 Z"/><path d="M1286.1,369.2 Q1288.5,363.5 1289.7,357.9 Q1290.7,364.1 1291.4,369.2 Z"/><path d="M1292.5,369.5 Q1294.9,363.9 1296.5,358.3 Q1296.9,364.4 1297.1,369.5 Z"/><path d="M1256.4,369.6 Q1258.9,364.1 1260.1,358.7 Q1261.4,364.7 1262.2,369.6 Z"/><path d="M1296.8,369.7 Q1301.0,358.9 1304.3,348.1 Q1304.4,360.0 1304.5,369.7 Z"/><path d="M1272.2,369.8 Q1276.1,357.7 1279.9,345.6 Q1279.2,358.9 1278.8,369.8 Z"/><path d="M1334.4,282.2 Q1335.9,271.8 1334.9,261.3 Q1338.0,272.8 1340.0,282.2 Z"/><path d="M1355.9,282.3 Q1355.7,256.5 1349.4,230.6 Q1357.6,259.1 1363.0,282.3 Z"/><path d="M1376.3,282.5 Q1379.3,258.0 1381.7,233.5 Q1381.9,260.5 1382.0,282.5 Z"/><path d="M1338.3,282.9 Q1341.7,271.4 1343.2,259.8 Q1344.8,272.5 1345.8,282.9 Z"/><path d="M1352.9,283.4 Q1354.6,262.1 1354.3,240.7 Q1356.6,264.2 1358.0,283.4 Z"/><path d="M1338.2,283.5 Q1339.5,270.3 1338.1,257.0 Q1341.4,271.6 1343.6,283.5 Z"/><path d="M1384.3,283.6 Q1390.1,264.8 1397.4,246.1 Q1394.1,266.7 1391.9,283.6 Z"/><path d="M1344.2,284.4 Q1347.8,266.3 1350.1,248.3 Q1351.0,268.1 1351.6,284.4 Z"/><path d="M1356.1,284.9 Q1358.8,267.4 1359.0,249.9 Q1361.6,269.2 1363.2,284.9 Z"/><path d="M1389.3,285.0 Q1393.2,271.3 1397.8,257.6 Q1396.0,272.7 1394.8,285.0 Z"/><path d="M1341.8,285.5 Q1343.0,263.5 1339.2,241.4 Q1345.5,265.7 1349.7,285.5 Z"/><path d="M1371.8,286.0 Q1373.1,259.1 1371.7,232.2 Q1374.8,261.8 1376.8,286.0 Z"/><path d="M1334.4,286.2 Q1336.3,264.4 1335.3,242.6 Q1338.7,266.6 1341.0,286.2 Z"/><path d="M1346.0,286.3 Q1346.0,265.7 1341.7,245.1 Q1347.3,267.7 1351.1,286.3 Z"/><path d="M1369.8,286.7 Q1371.5,273.3 1369.7,259.8 Q1374.0,274.6 1376.8,286.7 Z"/><path d="M1355.2,287.6 Q1357.8,272.7 1358.6,257.9 Q1360.4,274.2 1361.7,287.6 Z"/><path d="M1375.5,287.6 Q1377.3,268.3 1377.7,249.0 Q1379.2,270.2 1380.2,287.6 Z"/><path d="M1373.4,287.6 Q1377.2,261.0 1380.3,234.3 Q1380.3,263.6 1380.3,287.6 Z"/><path d="M1344.1,287.6 Q1347.2,275.8 1350.8,263.9 Q1349.5,277.0 1348.7,287.6 Z"/><path d="M1387.5,287.7 Q1390.6,275.2 1393.0,262.7 Q1393.2,276.5 1393.4,287.7 Z"/><path d="M1365.0,287.7 Q1368.8,273.8 1374.0,260.0 Q1371.3,275.2 1369.6,287.7 Z"/><path d="M1360.7,288.0 Q1362.1,274.3 1359.8,260.5 Q1364.4,275.6 1367.4,288.0 Z"/><path d="M1374.2,288.2 Q1376.8,263.6 1376.2,239.1 Q1379.7,266.1 1382.0,288.2 Z"/><path d="M1374.9,288.4 Q1375.1,262.9 1371.7,237.4 Q1376.4,265.5 1379.5,288.4 Z"/><path d="M1342.3,288.5 Q1345.0,266.7 1347.4,244.9 Q1347.2,268.9 1347.0,288.5 Z"/><path d="M1361.9,288.9 Q1365.2,267.5 1366.9,246.1 Q1368.2,269.6 1369.1,288.9 Z"/><path d="M1390.2,289.3 Q1393.3,275.5 1395.8,261.6 Q1395.9,276.9 1396.0,289.3 Z"/><path d="M1376.2,289.4 Q1381.9,266.2 1389.5,243.0 Q1385.7,268.5 1383.2,289.4 Z"/><path d="M1352.6,289.4 Q1357.0,274.9 1361.9,260.3 Q1360.2,276.3 1359.1,289.4 Z"/><path d="M1378.0,289.7 Q1382.0,267.5 1387.5,245.3 Q1384.6,269.7 1382.6,289.7 Z"/><path d="M1336.5,290.0 Q1337.6,277.9 1335.5,265.8 Q1339.4,279.1 1342.0,290.0 Z"/><path d="M1345.5,290.7 Q1349.8,269.0 1355.8,247.4 Q1352.5,271.2 1350.3,290.7 Z"/><path d="M1382.1,291.0 Q1384.0,277.0 1383.0,263.0 Q1386.3,278.4 1388.5,291.0 Z"/><path d="M1355.3,347.3 Q1357.4,338.9 1357.2,330.6 Q1359.8,339.8 1361.5,347.3 Z"/><path d="M1353.7,347.5 Q1356.4,338.6 1356.5,329.7 Q1359.2,339.5 1361.1,347.5 Z"/><path d="M1370.4,347.7 Q1371.6,340.2 1370.2,332.8 Q1373.3,341.0 1375.4,347.7 Z"/><path d="M1368.1,348.1 Q1370.7,339.4 1370.2,330.8 Q1373.7,340.3 1376.0,348.1 Z"/><path d="M1343.9,348.3 Q1345.8,343.2 1345.2,338.2 Q1348.0,343.7 1349.8,348.3 Z"/><path d="M1370.8,348.7 Q1371.7,339.6 1369.3,330.4 Q1373.3,340.5 1376.0,348.7 Z"/><path d="M1361.4,348.8 Q1364.6,339.0 1365.7,329.1 Q1367.7,340.0 1369.0,348.8 Z"/><path d="M1338.6,348.9 Q1341.9,341.9 1343.6,334.9 Q1345.0,342.6 1346.0,348.9 Z"/><path d="M1346.7,349.0 Q1348.1,343.9 1347.0,338.7 Q1349.9,344.4 1351.8,349.0 Z"/><path d="M1366.8,349.2 Q1368.9,343.6 1369.9,338.0 Q1370.8,344.2 1371.4,349.2 Z"/><path d="M1364.5,349.3 Q1366.8,343.9 1366.4,338.5 Q1369.4,344.5 1371.4,349.3 Z"/><path d="M1343.1,349.3 Q1346.3,342.1 1348.3,334.8 Q1349.1,342.8 1349.7,349.3 Z"/><path d="M1358.9,349.9 Q1362.9,340.1 1365.7,330.2 Q1366.4,341.1 1366.8,349.9 Z"/><path d="M1361.5,350.0 Q1363.3,341.7 1363.6,333.3 Q1365.1,342.5 1366.1,350.0 Z"/><path d="M1340.3,350.4 Q1342.6,343.7 1343.9,337.0 Q1344.6,344.4 1345.1,350.4 Z"/><path d="M1358.9,350.5 Q1361.7,344.8 1361.8,339.1 Q1364.7,345.3 1366.7,350.5 Z"/><path d="M1359.5,350.5 Q1360.9,341.8 1358.8,333.1 Q1363.0,342.7 1365.8,350.5 Z"/><path d="M1341.9,350.5 Q1344.5,342.3 1344.3,334.1 Q1347.3,343.2 1349.3,350.5 Z"/><path d="M1357.7,350.6 Q1359.5,340.7 1357.2,330.7 Q1362.2,341.7 1365.5,350.6 Z"/><path d="M1369.4,350.9 Q1371.6,344.0 1372.8,337.1 Q1373.7,344.7 1374.3,350.9 Z"/><path d="M1347.8,351.0 Q1350.2,343.5 1349.5,336.1 Q1353.1,344.3 1355.4,351.0 Z"/><path d="M1417.6,380.9 Q1418.9,370.2 1417.0,359.5 Q1420.9,371.3 1423.4,380.9 Z"/><path d="M1406.5,381.2 Q1409.2,370.3 1408.9,359.4 Q1412.2,371.4 1414.4,381.2 Z"/><path d="M1413.8,382.0 Q1416.6,371.3 1418.9,360.6 Q1418.9,372.4 1418.9,382.0 Z"/><path d="M1432.3,382.0 Q1436.8,371.4 1441.0,360.9 Q1440.4,372.5 1440.0,382.0 Z"/><path d="M1412.2,382.4 Q1415.5,370.7 1417.8,359.0 Q1418.2,371.9 1418.5,382.4 Z"/><path d="M1403.6,382.4 Q1407.6,371.9 1410.5,361.4 Q1410.9,373.0 1411.1,382.4 Z"/><path d="M1417.7,382.6 Q1419.7,371.9 1419.2,361.1 Q1421.9,372.9 1423.6,382.6 Z"/><path d="M1408.8,382.6 Q1411.0,372.0 1409.6,361.4 Q1413.7,373.1 1416.5,382.6 Z"/><path d="M1415.3,382.8 Q1418.3,374.1 1419.6,365.4 Q1421.2,375.0 1422.2,382.8 Z"/><path d="M1397.7,382.8 Q1400.3,375.0 1402.4,367.2 Q1402.5,375.8 1402.5,382.8 Z"/><path d="M1420.4,383.4 Q1421.3,368.4 1417.2,353.4 Q1423.5,369.9 1427.7,383.4 Z"/><path d="M1394.3,383.4 Q1397.0,376.0 1399.2,368.7 Q1399.3,376.8 1399.4,383.4 Z"/><path d="M1403.2,383.6 Q1406.7,372.5 1409.2,361.4 Q1409.7,373.6 1410.1,383.6 Z"/><path d="M1422.4,383.9 Q1427.1,371.7 1431.8,359.6 Q1430.7,372.9 1429.9,383.9 Z"/><path d="M1392.2,384.0 Q1394.5,371.1 1393.5,358.3 Q1397.3,372.4 1399.9,384.0 Z"/><path d="M1400.3,384.1 Q1404.0,370.6 1408.1,357.0 Q1406.6,371.9 1405.6,384.1 Z"/><path d="M1420.9,384.3 Q1424.3,376.9 1426.5,369.6 Q1427.2,377.7 1427.7,384.3 Z"/><path d="M1390.9,384.3 Q1394.5,370.6 1396.4,357.0 Q1397.8,372.0 1398.7,384.3 Z"/><path d="M1426.1,384.3 Q1428.1,374.5 1427.0,364.6 Q1430.5,375.5 1432.8,384.3 Z"/><path d="M1410.0,384.5 Q1412.0,374.8 1412.1,365.1 Q1414.2,375.8 1415.6,384.5 Z"/><path d="M1393.9,384.7 Q1398.2,373.6 1401.8,362.5 Q1401.8,374.7 1401.7,384.7 Z"/><path d="M1416.9,385.2 Q1420.4,373.5 1422.5,361.9 Q1423.5,374.7 1424.2,385.2 Z"/><path d="M1414.2,385.2 Q1415.9,376.6 1415.8,368.0 Q1417.7,377.4 1419.0,385.2 Z"/><path d="M1428.1,385.5 Q1431.1,374.3 1434.0,363.0 Q1433.4,375.4 1433.0,385.5 Z"/><path d="M1393.4,385.6 Q1397.0,377.8 1399.8,370.1 Q1400.0,378.6 1400.1,385.6 Z"/><path d="M1388.9,385.8 Q1391.0,376.1 1390.4,366.5 Q1393.5,377.1 1395.5,385.8 Z"/></g>
<g fill="url(#gSmoke)">
<circle cx="545" cy="15" r="17"/>
<circle cx="566" cy="11" r="19"/>
<circle cx="590" cy="8" r="19"/>
<circle cx="612" cy="5" r="15"/>
<circle cx="575" cy="30" r="14"/>
<circle cx="558" cy="40" r="12"/>
<circle cx="510" cy="48" r="33"/>
<circle cx="545" cy="62" r="16"/>
<circle cx="540" cy="82" r="12"/>
<circle cx="492" cy="82" r="24"/>
<circle cx="525" cy="86" r="22"/>
<circle cx="490" cy="112" r="20"/>
<circle cx="522" cy="108" r="22"/>
<circle cx="488" cy="130" r="17"/>
<circle cx="518" cy="127" r="20"/>
<circle cx="503" cy="136" r="12"/>
<circle cx="508" cy="55" r="12"/>
<circle cx="494" cy="72" r="10"/>
<circle cx="520" cy="70" r="9"/>
<circle cx="480" cy="84" r="11"/>
<circle cx="505" cy="92" r="12"/>
<circle cx="530" cy="98" r="11"/>
<circle cx="488" cy="104" r="10"/>
<circle cx="512" cy="112" r="11"/>
<circle cx="498" cy="120" r="11"/>
<circle cx="530" cy="120" r="10"/>
<circle cx="484" cy="126" r="10"/>
<circle cx="512" cy="132" r="10"/>
</g>
<path fill="url(#gArrow)" stroke="#8a8a8a" stroke-width="2.6" stroke-linejoin="miter" d="M526.6,54 C526,35 535,18 555,8 C565,3 580,2 593,2 L591,-6 L606.5,10.8 L584,35 L584,19 C570,21 558,30 553,40 C551,45 551.6,50 551.6,54 Z"/>
<!-- factory -->
<linearGradient id="gBoxF" x1="0" y1="0" x2="1" y2="1"><stop offset="0" stop-color="#ffffff"/><stop offset="0.45" stop-color="#f4f4f4"/><stop offset="1" stop-color="#b8b8b8"/></linearGradient>
<linearGradient id="gBoxT" x1="0" y1="1" x2="1" y2="0"><stop offset="0" stop-color="#f2f2f2"/><stop offset="1" stop-color="#dcdcdc"/></linearGradient>
<linearGradient id="gBoxS" x1="0" y1="0" x2="1" y2="1"><stop offset="0" stop-color="#ffffff"/><stop offset="0.5" stop-color="#eeeeee"/><stop offset="1" stop-color="#a8a8a8"/></linearGradient>
<linearGradient id="gChim" x1="0" y1="0" x2="1" y2="0"><stop offset="0" stop-color="#f0f0f0"/><stop offset="0.35" stop-color="#ffffff"/><stop offset="1" stop-color="#b8b8b8"/></linearGradient>
<g stroke="#000" stroke-width="3" stroke-linejoin="miter">
<polygon points="458,262 499,208 581,208 540,262" fill="url(#gBoxT)"/>
<polygon points="540,262 581,208 581,271 540,325" fill="url(#gBoxS)"/>
<rect x="458" y="262" width="82" height="63" fill="url(#gBoxF)"/>
</g>
<path d="M485,345 L485,140 C485,130 508,130 508,140 L508,345 C508,351 485,351 485,345 Z" fill="url(#gChim)" stroke="#111" stroke-width="2.5"/>
<!-- lines from CO2 -->
<g fill="none" stroke="#000" stroke-width="4.5" stroke-linecap="butt" stroke-linejoin="miter">
<path d="M442,841 L442,363"/>
<path d="M286.6,321 L283,302.5 L442,363 L484,339"/>
<path d="M442,363 C446,390 450,405 457,419 C480,470 545,540 590,598 C612,628 618,665 612,708"/>
<path d="M442,363 C465,383 478,403 491,419 C530,470 620,540 674,569 C720,595 752,612 771,628 C785,642 791,660 792,680"/>
<path d="M442,420 C400,430 360,445 323,452 C285,460 255,465 242,471 C225,478 210,485 200,494"/>
</g>
<path fill="#000" d="M611,704 C605,722 590,735 563.5,749 L687.5,757 C660,748 640,742 628,732 C618,724 614,716 615,706 Z"/>
<path fill="#000" d="M790,680 C785,700 760,720 709.5,750.5 C780,735 850,718 914.5,699.5 C905,697 880,695 857,691 C830,684 808,672 795,672 Z"/>
<!-- pipelines -->
<path fill="#000" d="M2,488 C40,487 64,486 90,486 C115,486 135,487 148.6,489 C130,492 115,493 97,494 C75,496 50,498 30,500 C18,501 8,501 2,502 Z"/>
<path fill="#000" d="M2,506 C15,507 25,508 35,512 C48,518 56,523 66,523 C85,522 100,508 119,508 C135,508 145,514 161,513 C180,511 193,503 206,497 C218,491 235,489 265,494 C245,493 232,495 224,500 C210,510 205,518 193,524 C180,532 165,539 150,539 C130,538 115,530 97,530 C85,530 80,542 68,542 C55,541 45,534 32,532 C20,530 10,528 2,528 Z"/>
<path fill="#000" d="M2,534 C15,537 25,541 40,542 C60,543 80,542 100,542 C115,542 128,543 142,544 C130,545 120,546 110,547 C90,550 75,557 58,558 C40,557 25,551 2,549 Z"/>
<!-- dashed arrow -->
<g fill="#000">
<rect x="601" y="401" width="79" height="14"/>
<rect x="693" y="401" width="77" height="14"/>
<polygon points="769,376 825,408 769,440"/>
<rect x="839.5" y="401" width="79.5" height="14"/>
<rect x="932" y="401" width="80" height="14"/>
<rect x="998" y="380" width="14" height="25"/>
<polygon points="972.5,381.5 1036.5,381.5 1004.6,326"/>
<rect x="1025.5" y="401" width="79" height="14"/>
<rect x="1117.7" y="401" width="79.5" height="14"/>
<rect x="1211" y="401" width="79" height="14"/>
<path d="M1303.5,401 L1309,401 L1309,354 L1322.5,354 L1322.5,409 C1322.5,413 1320,415 1316,415 L1303.5,415 Z"/>
<polygon points="1283,355.5 1347.5,355.5 1315.7,299.3"/>
</g>
<!-- callout boxes -->
<g fill="#fff" stroke="#858585" stroke-width="2.5">
<rect x="641.5" y="236" width="20" height="55"/>
<path d="M643,375 L643,394 C643,403 663,403 663,394 L663,375 Z"/>
<path d="M1171,184 L1171,250 C1171,261 1191,261 1191,250 L1191,184 Z"/>
<rect x="531.5" y="131.5" width="239.5" height="110.5" rx="14"/>
<rect x="533.5" y="284.5" width="240.5" height="96.5" rx="14"/>
<rect x="395" y="374.5" width="109" height="44.5" rx="10"/>
<rect x="1017.5" y="4.5" width="329" height="185.5" rx="14"/>
<rect x="230" y="693.5" width="239.5" height="95" rx="17"/>
</g>
<g fill="#fff">
<rect x="643" y="238" width="17" height="52"/>
<rect x="644.5" y="376" width="17" height="8"/>
<rect x="1172.5" y="185" width="17" height="8"/>
</g>
<!-- text -->
<g font-size="35.5" fill="#000" font-family="Liberation Sans, sans-serif" lengthAdjust="spacingAndGlyphs">
<text x="551.6" y="177" textLength="197.2" lengthAdjust="spacingAndGlyphs">Capture and</text>
<text x="562.3" y="216" textLength="173.8" lengthAdjust="spacingAndGlyphs">separation</text>
<text x="625.4" y="323" textLength="55" lengthAdjust="spacingAndGlyphs">Soil</text>
<text x="545.6" y="362" textLength="214" lengthAdjust="spacingAndGlyphs">amendments</text>
<text x="1063.9" y="50.3" textLength="230.1" lengthAdjust="spacingAndGlyphs">Carbon-based</text>
<text x="1095.3" y="89" textLength="169.2" lengthAdjust="spacingAndGlyphs">production</text>
<text x="1037.4" y="128" textLength="284.8" lengthAdjust="spacingAndGlyphs">(e.g. fuels, power,</text>
<text x="1059.1" y="166.7" textLength="238.7" lengthAdjust="spacingAndGlyphs">wood, plastics)</text>
<text x="177.9" y="386.3" textLength="149.2" lengthAdjust="spacingAndGlyphs">Pond with</text>
<text x="191.5" y="424.1" textLength="130" lengthAdjust="spacingAndGlyphs">bacteria</text>
<text x="423.2" y="405.6" textLength="44.8" lengthAdjust="spacingAndGlyphs">CO</text>
<text x="472.5" y="406" font-size="18" textLength="10.5" lengthAdjust="spacingAndGlyphs">2</text>
<text x="214" y="534.4" textLength="139.5" lengthAdjust="spacingAndGlyphs">Pipelines</text>
<text x="265.3" y="733.4" textLength="170.5" lengthAdjust="spacingAndGlyphs">Geological</text>
<text x="262.8" y="772" textLength="173.9" lengthAdjust="spacingAndGlyphs">formations</text>
</g>
<g font-size="35.5" fill="#fff">
<text x="38" y="618.3" textLength="142.4" lengthAdjust="spacingAndGlyphs">Coal bed</text>
<text x="37.3" y="657.1" textLength="143.8" lengthAdjust="spacingAndGlyphs">methane</text>
<text x="27" y="695.1" textLength="173" lengthAdjust="spacingAndGlyphs">formations</text>
<text x="952.8" y="685" textLength="189.7" lengthAdjust="spacingAndGlyphs">Depleted oil</text>
<text x="934.8" y="723.5" textLength="232.1" lengthAdjust="spacingAndGlyphs">gas reservoirs</text>
</g>
</svg>
</body></html>
